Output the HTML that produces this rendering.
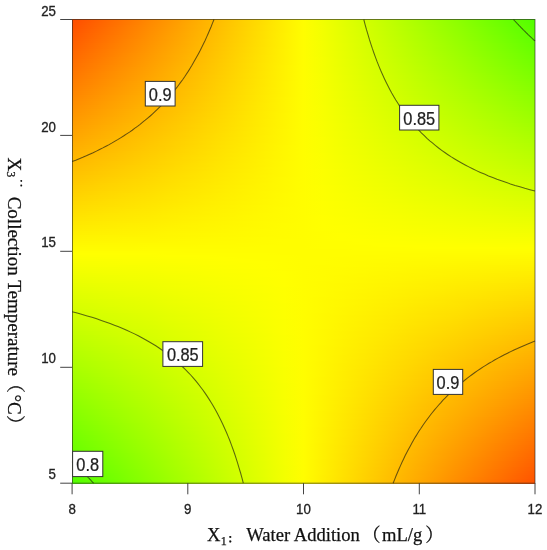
<!DOCTYPE html>
<html><head><meta charset="utf-8"><title>Contour plot</title>
<style>
html,body{margin:0;padding:0;background:#fff}
body{width:547px;height:550px;position:relative;overflow:hidden;font-family:"Liberation Sans",sans-serif}
#f{position:absolute;left:72.0px;top:19.0px;width:463.4px;height:464.6px;overflow:hidden}
#f i{display:block;width:100%}
svg{position:absolute;left:0;top:0}
svg path{fill:none;stroke:#1c1c10;stroke-width:1.05;stroke-opacity:.66}
svg line{stroke:#444;stroke-width:1}
.tk{font:14px "Liberation Sans",sans-serif;fill:#222;stroke:#222;stroke-width:.3}
.lb{fill:#fff;stroke:#333;stroke-width:1}
.lt{font:17.6px "Liberation Sans",sans-serif;fill:#222;stroke:#222;stroke-width:.25}
.ax{font:18.6px "Liberation Serif","Noto Serif CJK SC",serif;fill:#111;stroke:#111;stroke-width:.25}
.ax .cj,.cj{font:900 9px "Liberation Sans","Noto Sans CJK SC",sans-serif;fill:#111}
.bd{fill:none;stroke:#222;stroke-opacity:.6;stroke-width:1}
</style></head><body>
<div id="f"><i style="height:2.00px;background:linear-gradient(90deg,#ff4d00,#ff5c00,#ff6b00,#ff7900,#ff8800,#ff9700,#ffa500,#ffb400,#ffc300,#ffd100,#ffe000,#ffef00,#fffd00,#f2ff00,#e4ff00,#d5ff00,#c7ff00,#b8ff00,#aaff00,#9bff00,#8dff00,#7eff00,#70ff00,#61ff00,#53ff00)"></i><i style="height:2.00px;background:linear-gradient(90deg,#ff4f00,#ff5d00,#ff6c00,#ff7a00,#ff8900,#ff9700,#ffa600,#ffb500,#ffc300,#ffd200,#ffe000,#ffef00,#fffd00,#f2ff00,#e4ff00,#d5ff00,#c7ff00,#b9ff00,#aaff00,#9cff00,#8eff00,#7fff00,#71ff00,#62ff00,#54ff00)"></i><i style="height:2.00px;background:linear-gradient(90deg,#ff5000,#ff5f00,#ff6d00,#ff7b00,#ff8a00,#ff9800,#ffa700,#ffb500,#ffc400,#ffd200,#ffe000,#ffef00,#fffd00,#f2ff00,#e4ff00,#d6ff00,#c8ff00,#b9ff00,#abff00,#9dff00,#8fff00,#80ff00,#72ff00,#64ff00,#56ff00)"></i><i style="height:2.00px;background:linear-gradient(90deg,#ff5200,#ff6000,#ff6e00,#ff7d00,#ff8b00,#ff9900,#ffa800,#ffb600,#ffc400,#ffd200,#ffe100,#ffef00,#fffd00,#f3ff00,#e4ff00,#d6ff00,#c8ff00,#baff00,#acff00,#9eff00,#90ff00,#81ff00,#73ff00,#65ff00,#57ff00)"></i><i style="height:2.00px;background:linear-gradient(90deg,#ff5300,#ff6100,#ff7000,#ff7e00,#ff8c00,#ff9a00,#ffa800,#ffb600,#ffc500,#ffd300,#ffe100,#ffef00,#fffd00,#f3ff00,#e5ff00,#d7ff00,#c9ff00,#bbff00,#adff00,#9fff00,#91ff00,#83ff00,#75ff00,#67ff00,#59ff00)"></i><i style="height:2.00px;background:linear-gradient(90deg,#ff5500,#ff6300,#ff7100,#ff7f00,#ff8d00,#ff9b00,#ffa900,#ffb700,#ffc500,#ffd300,#ffe100,#ffef00,#fffd00,#f3ff00,#e5ff00,#d7ff00,#c9ff00,#bbff00,#adff00,#9fff00,#92ff00,#84ff00,#76ff00,#68ff00,#5aff00)"></i><i style="height:2.00px;background:linear-gradient(90deg,#ff5600,#ff6400,#ff7200,#ff8000,#ff8e00,#ff9c00,#ffaa00,#ffb800,#ffc600,#ffd400,#ffe200,#ffef00,#fffd00,#f3ff00,#e5ff00,#d7ff00,#caff00,#bcff00,#aeff00,#a0ff00,#93ff00,#85ff00,#77ff00,#69ff00,#5cff00)"></i><i style="height:2.00px;background:linear-gradient(90deg,#ff5800,#ff6600,#ff7300,#ff8100,#ff8f00,#ff9d00,#ffab00,#ffb800,#ffc600,#ffd400,#ffe200,#fff000,#fffd00,#f3ff00,#e5ff00,#d8ff00,#caff00,#bcff00,#afff00,#a1ff00,#94ff00,#86ff00,#78ff00,#6bff00,#5dff00)"></i><i style="height:2.00px;background:linear-gradient(90deg,#ff5900,#ff6700,#ff7500,#ff8200,#ff9000,#ff9e00,#ffab00,#ffb900,#ffc700,#ffd400,#ffe200,#fff000,#fffd00,#f3ff00,#e6ff00,#d8ff00,#cbff00,#bdff00,#b0ff00,#a2ff00,#95ff00,#87ff00,#7aff00,#6cff00,#5fff00)"></i><i style="height:2.00px;background:linear-gradient(90deg,#ff5b00,#ff6800,#ff7600,#ff8300,#ff9100,#ff9f00,#ffac00,#ffba00,#ffc700,#ffd500,#ffe200,#fff000,#fffd00,#f3ff00,#e6ff00,#d9ff00,#cbff00,#beff00,#b0ff00,#a3ff00,#96ff00,#88ff00,#7bff00,#6dff00,#60ff00)"></i><i style="height:2.00px;background:linear-gradient(90deg,#ff5c00,#ff6a00,#ff7700,#ff8500,#ff9200,#ff9f00,#ffad00,#ffba00,#ffc800,#ffd500,#ffe300,#fff000,#fffd00,#f3ff00,#e6ff00,#d9ff00,#ccff00,#beff00,#b1ff00,#a4ff00,#97ff00,#89ff00,#7cff00,#6fff00,#62ff00)"></i><i style="height:2.00px;background:linear-gradient(90deg,#ff5e00,#ff6b00,#ff7800,#ff8600,#ff9300,#ffa000,#ffae00,#ffbb00,#ffc800,#ffd500,#ffe300,#fff000,#fffd00,#f4ff00,#e6ff00,#d9ff00,#ccff00,#bfff00,#b2ff00,#a5ff00,#98ff00,#8bff00,#7dff00,#70ff00,#63ff00)"></i><i style="height:2.00px;background:linear-gradient(90deg,#ff5f00,#ff6d00,#ff7a00,#ff8700,#ff9400,#ffa100,#ffae00,#ffbc00,#ffc900,#ffd600,#ffe300,#fff000,#fffd00,#f4ff00,#e7ff00,#daff00,#cdff00,#c0ff00,#b3ff00,#a6ff00,#99ff00,#8cff00,#7fff00,#72ff00,#65ff00)"></i><i style="height:2.00px;background:linear-gradient(90deg,#ff6100,#ff6e00,#ff7b00,#ff8800,#ff9500,#ffa200,#ffaf00,#ffbc00,#ffc900,#ffd600,#ffe300,#fff000,#fffd00,#f4ff00,#e7ff00,#daff00,#cdff00,#c0ff00,#b3ff00,#a7ff00,#9aff00,#8dff00,#80ff00,#73ff00,#66ff00)"></i><i style="height:2.00px;background:linear-gradient(90deg,#ff6200,#ff6f00,#ff7c00,#ff8900,#ff9600,#ffa300,#ffb000,#ffbd00,#ffca00,#ffd700,#ffe400,#fff000,#fffd00,#f4ff00,#e7ff00,#daff00,#ceff00,#c1ff00,#b4ff00,#a7ff00,#9bff00,#8eff00,#81ff00,#74ff00,#68ff00)"></i><i style="height:2.00px;background:linear-gradient(90deg,#ff6400,#ff7100,#ff7e00,#ff8a00,#ff9700,#ffa400,#ffb100,#ffbd00,#ffca00,#ffd700,#ffe400,#fff100,#fffd00,#f4ff00,#e7ff00,#dbff00,#ceff00,#c2ff00,#b5ff00,#a8ff00,#9cff00,#8fff00,#82ff00,#76ff00,#69ff00)"></i><i style="height:2.00px;background:linear-gradient(90deg,#ff6600,#ff7200,#ff7f00,#ff8b00,#ff9800,#ffa500,#ffb100,#ffbe00,#ffcb00,#ffd700,#ffe400,#fff100,#fffd00,#f4ff00,#e8ff00,#dbff00,#cfff00,#c2ff00,#b6ff00,#a9ff00,#9dff00,#90ff00,#84ff00,#77ff00,#6bff00)"></i><i style="height:2.00px;background:linear-gradient(90deg,#ff6700,#ff7400,#ff8000,#ff8d00,#ff9900,#ffa600,#ffb200,#ffbf00,#ffcb00,#ffd800,#ffe400,#fff100,#fffd00,#f4ff00,#e8ff00,#dcff00,#cfff00,#c3ff00,#b6ff00,#aaff00,#9eff00,#91ff00,#85ff00,#79ff00,#6cff00)"></i><i style="height:2.00px;background:linear-gradient(90deg,#ff6900,#ff7500,#ff8100,#ff8e00,#ff9a00,#ffa700,#ffb300,#ffbf00,#ffcc00,#ffd800,#ffe500,#fff100,#fffd00,#f4ff00,#e8ff00,#dcff00,#d0ff00,#c3ff00,#b7ff00,#abff00,#9fff00,#92ff00,#86ff00,#7aff00,#6eff00)"></i><i style="height:2.00px;background:linear-gradient(90deg,#ff6a00,#ff7600,#ff8300,#ff8f00,#ff9b00,#ffa700,#ffb400,#ffc000,#ffcc00,#ffd900,#ffe500,#fff100,#fffd00,#f5ff00,#e8ff00,#dcff00,#d0ff00,#c4ff00,#b8ff00,#acff00,#a0ff00,#94ff00,#87ff00,#7bff00,#6fff00)"></i><i style="height:2.00px;background:linear-gradient(90deg,#ff6c00,#ff7800,#ff8400,#ff9000,#ff9c00,#ffa800,#ffb400,#ffc100,#ffcd00,#ffd900,#ffe500,#fff100,#fffd00,#f5ff00,#e9ff00,#ddff00,#d1ff00,#c5ff00,#b9ff00,#adff00,#a1ff00,#95ff00,#89ff00,#7dff00,#71ff00)"></i><i style="height:2.00px;background:linear-gradient(90deg,#ff6d00,#ff7900,#ff8500,#ff9100,#ff9d00,#ffa900,#ffb500,#ffc100,#ffcd00,#ffd900,#ffe500,#fff100,#fffd00,#f5ff00,#e9ff00,#ddff00,#d1ff00,#c5ff00,#b9ff00,#aeff00,#a2ff00,#96ff00,#8aff00,#7eff00,#72ff00)"></i><i style="height:2.00px;background:linear-gradient(90deg,#ff6f00,#ff7b00,#ff8600,#ff9200,#ff9e00,#ffaa00,#ffb600,#ffc200,#ffce00,#ffda00,#ffe600,#fff100,#fffd00,#f5ff00,#e9ff00,#ddff00,#d2ff00,#c6ff00,#baff00,#aeff00,#a3ff00,#97ff00,#8bff00,#7fff00,#74ff00)"></i><i style="height:2.00px;background:linear-gradient(90deg,#ff7000,#ff7c00,#ff8800,#ff9300,#ff9f00,#ffab00,#ffb700,#ffc300,#ffce00,#ffda00,#ffe600,#fff200,#fffd00,#f5ff00,#e9ff00,#deff00,#d2ff00,#c7ff00,#bbff00,#afff00,#a4ff00,#98ff00,#8cff00,#81ff00,#75ff00)"></i><i style="height:2.00px;background:linear-gradient(90deg,#ff7200,#ff7d00,#ff8900,#ff9500,#ffa000,#ffac00,#ffb800,#ffc300,#ffcf00,#ffda00,#ffe600,#fff200,#fffd00,#f5ff00,#eaff00,#deff00,#d3ff00,#c7ff00,#bcff00,#b0ff00,#a5ff00,#99ff00,#8eff00,#82ff00,#77ff00)"></i><i style="height:2.00px;background:linear-gradient(90deg,#ff7300,#ff7f00,#ff8a00,#ff9600,#ffa100,#ffad00,#ffb800,#ffc400,#ffcf00,#ffdb00,#ffe600,#fff200,#fffd00,#f5ff00,#eaff00,#dfff00,#d3ff00,#c8ff00,#bcff00,#b1ff00,#a6ff00,#9aff00,#8fff00,#84ff00,#78ff00)"></i><i style="height:2.00px;background:linear-gradient(90deg,#ff7500,#ff8000,#ff8c00,#ff9700,#ffa200,#ffae00,#ffb900,#ffc400,#ffd000,#ffdb00,#ffe700,#fff200,#fffd00,#f5ff00,#eaff00,#dfff00,#d4ff00,#c8ff00,#bdff00,#b2ff00,#a7ff00,#9bff00,#90ff00,#85ff00,#7aff00)"></i><i style="height:2.00px;background:linear-gradient(90deg,#ff7600,#ff8200,#ff8d00,#ff9800,#ffa300,#ffaf00,#ffba00,#ffc500,#ffd000,#ffdc00,#ffe700,#fff200,#fffd00,#f6ff00,#eaff00,#dfff00,#d4ff00,#c9ff00,#beff00,#b3ff00,#a8ff00,#9dff00,#91ff00,#86ff00,#7bff00)"></i><i style="height:2.00px;background:linear-gradient(90deg,#ff7800,#ff8300,#ff8e00,#ff9900,#ffa400,#ffaf00,#ffbb00,#ffc600,#ffd100,#ffdc00,#ffe700,#fff200,#fffd00,#f6ff00,#ebff00,#e0ff00,#d5ff00,#caff00,#bfff00,#b4ff00,#a9ff00,#9eff00,#93ff00,#88ff00,#7dff00)"></i><i style="height:2.00px;background:linear-gradient(90deg,#ff7900,#ff8400,#ff8f00,#ff9a00,#ffa500,#ffb000,#ffbb00,#ffc600,#ffd100,#ffdc00,#ffe700,#fff200,#fffd00,#f6ff00,#ebff00,#e0ff00,#d5ff00,#caff00,#bfff00,#b5ff00,#aaff00,#9fff00,#94ff00,#89ff00,#7eff00)"></i><i style="height:2.00px;background:linear-gradient(90deg,#ff7b00,#ff8600,#ff9100,#ff9b00,#ffa600,#ffb100,#ffbc00,#ffc700,#ffd200,#ffdd00,#ffe800,#fff200,#fffd00,#f6ff00,#ebff00,#e0ff00,#d6ff00,#cbff00,#c0ff00,#b5ff00,#abff00,#a0ff00,#95ff00,#8aff00,#80ff00)"></i><i style="height:2.00px;background:linear-gradient(90deg,#ff7c00,#ff8700,#ff9200,#ff9d00,#ffa700,#ffb200,#ffbd00,#ffc800,#ffd200,#ffdd00,#ffe800,#fff300,#fffd00,#f6ff00,#ebff00,#e1ff00,#d6ff00,#ccff00,#c1ff00,#b6ff00,#acff00,#a1ff00,#96ff00,#8cff00,#81ff00)"></i><i style="height:2.00px;background:linear-gradient(90deg,#ff7e00,#ff8800,#ff9300,#ff9e00,#ffa800,#ffb300,#ffbe00,#ffc800,#ffd300,#ffdd00,#ffe800,#fff300,#fffd00,#f6ff00,#ecff00,#e1ff00,#d7ff00,#ccff00,#c2ff00,#b7ff00,#adff00,#a2ff00,#98ff00,#8dff00,#83ff00)"></i><i style="height:2.00px;background:linear-gradient(90deg,#ff7f00,#ff8a00,#ff9400,#ff9f00,#ffa900,#ffb400,#ffbe00,#ffc900,#ffd300,#ffde00,#ffe800,#fff300,#fffd00,#f6ff00,#ecff00,#e2ff00,#d7ff00,#cdff00,#c2ff00,#b8ff00,#aeff00,#a3ff00,#99ff00,#8fff00,#84ff00)"></i><i style="height:2.00px;background:linear-gradient(90deg,#ff8100,#ff8b00,#ff9600,#ffa000,#ffaa00,#ffb500,#ffbf00,#ffc900,#ffd400,#ffde00,#ffe900,#fff300,#fffd00,#f6ff00,#ecff00,#e2ff00,#d8ff00,#cdff00,#c3ff00,#b9ff00,#afff00,#a4ff00,#9aff00,#90ff00,#86ff00)"></i><i style="height:2.00px;background:linear-gradient(90deg,#ff8200,#ff8d00,#ff9700,#ffa100,#ffab00,#ffb600,#ffc000,#ffca00,#ffd400,#ffdf00,#ffe900,#fff300,#fffd00,#f7ff00,#ecff00,#e2ff00,#d8ff00,#ceff00,#c4ff00,#baff00,#b0ff00,#a6ff00,#9cff00,#91ff00,#87ff00)"></i><i style="height:2.00px;background:linear-gradient(90deg,#ff8400,#ff8e00,#ff9800,#ffa200,#ffac00,#ffb700,#ffc100,#ffcb00,#ffd500,#ffdf00,#ffe900,#fff300,#fffd00,#f7ff00,#edff00,#e3ff00,#d9ff00,#cfff00,#c5ff00,#bbff00,#b1ff00,#a7ff00,#9dff00,#93ff00,#89ff00)"></i><i style="height:2.00px;background:linear-gradient(90deg,#ff8500,#ff8f00,#ff9900,#ffa300,#ffad00,#ffb700,#ffc100,#ffcb00,#ffd500,#ffdf00,#ffe900,#fff300,#fffd00,#f7ff00,#edff00,#e3ff00,#d9ff00,#cfff00,#c5ff00,#bcff00,#b2ff00,#a8ff00,#9eff00,#94ff00,#8aff00)"></i><i style="height:2.00px;background:linear-gradient(90deg,#ff8700,#ff9100,#ff9b00,#ffa500,#ffae00,#ffb800,#ffc200,#ffcc00,#ffd600,#ffe000,#ffea00,#fff300,#fffd00,#f7ff00,#edff00,#e3ff00,#daff00,#d0ff00,#c6ff00,#bcff00,#b3ff00,#a9ff00,#9fff00,#96ff00,#8cff00)"></i><i style="height:2.00px;background:linear-gradient(90deg,#ff8900,#ff9200,#ff9c00,#ffa600,#ffaf00,#ffb900,#ffc300,#ffcd00,#ffd600,#ffe000,#ffea00,#fff400,#fffd00,#f7ff00,#edff00,#e4ff00,#daff00,#d1ff00,#c7ff00,#bdff00,#b4ff00,#aaff00,#a1ff00,#97ff00,#8dff00)"></i><i style="height:2.00px;background:linear-gradient(90deg,#ff8a00,#ff9400,#ff9d00,#ffa700,#ffb000,#ffba00,#ffc400,#ffcd00,#ffd700,#ffe000,#ffea00,#fff400,#fffd00,#f7ff00,#eeff00,#e4ff00,#dbff00,#d1ff00,#c8ff00,#beff00,#b5ff00,#abff00,#a2ff00,#98ff00,#8fff00)"></i><i style="height:2.00px;background:linear-gradient(90deg,#ff8c00,#ff9500,#ff9f00,#ffa800,#ffb100,#ffbb00,#ffc400,#ffce00,#ffd700,#ffe100,#ffea00,#fff400,#fffd00,#f7ff00,#eeff00,#e5ff00,#dbff00,#d2ff00,#c8ff00,#bfff00,#b6ff00,#acff00,#a3ff00,#9aff00,#90ff00)"></i><i style="height:2.00px;background:linear-gradient(90deg,#ff8d00,#ff9600,#ffa000,#ffa900,#ffb200,#ffbc00,#ffc500,#ffcf00,#ffd800,#ffe100,#ffeb00,#fff400,#fffd00,#f7ff00,#eeff00,#e5ff00,#dcff00,#d2ff00,#c9ff00,#c0ff00,#b7ff00,#aeff00,#a4ff00,#9bff00,#92ff00)"></i><i style="height:2.00px;background:linear-gradient(90deg,#ff8f00,#ff9800,#ffa100,#ffaa00,#ffb400,#ffbd00,#ffc600,#ffcf00,#ffd800,#ffe200,#ffeb00,#fff400,#fffd00,#f8ff00,#eeff00,#e5ff00,#dcff00,#d3ff00,#caff00,#c1ff00,#b8ff00,#afff00,#a6ff00,#9cff00,#93ff00)"></i><i style="height:2.00px;background:linear-gradient(90deg,#ff9000,#ff9900,#ffa200,#ffab00,#ffb500,#ffbe00,#ffc700,#ffd000,#ffd900,#ffe200,#ffeb00,#fff400,#fffd00,#f8ff00,#efff00,#e6ff00,#ddff00,#d4ff00,#cbff00,#c2ff00,#b9ff00,#b0ff00,#a7ff00,#9eff00,#95ff00)"></i><i style="height:2.00px;background:linear-gradient(90deg,#ff9200,#ff9b00,#ffa400,#ffad00,#ffb600,#ffbf00,#ffc700,#ffd000,#ffd900,#ffe200,#ffeb00,#fff400,#fffd00,#f8ff00,#efff00,#e6ff00,#ddff00,#d4ff00,#cbff00,#c3ff00,#baff00,#b1ff00,#a8ff00,#9fff00,#96ff00)"></i><i style="height:2.00px;background:linear-gradient(90deg,#ff9300,#ff9c00,#ffa500,#ffae00,#ffb700,#ffbf00,#ffc800,#ffd100,#ffda00,#ffe300,#ffec00,#fff400,#fffd00,#f8ff00,#efff00,#e6ff00,#deff00,#d5ff00,#ccff00,#c4ff00,#bbff00,#b2ff00,#a9ff00,#a1ff00,#98ff00)"></i><i style="height:2.00px;background:linear-gradient(90deg,#ff9500,#ff9d00,#ffa600,#ffaf00,#ffb800,#ffc000,#ffc900,#ffd200,#ffda00,#ffe300,#ffec00,#fff500,#fffd00,#f8ff00,#efff00,#e7ff00,#deff00,#d6ff00,#cdff00,#c4ff00,#bcff00,#b3ff00,#abff00,#a2ff00,#99ff00)"></i><i style="height:2.00px;background:linear-gradient(90deg,#ff9600,#ff9f00,#ffa700,#ffb000,#ffb900,#ffc100,#ffca00,#ffd200,#ffdb00,#ffe400,#ffec00,#fff500,#fffd00,#f8ff00,#f0ff00,#e7ff00,#dfff00,#d6ff00,#ceff00,#c5ff00,#bdff00,#b4ff00,#acff00,#a3ff00,#9bff00)"></i><i style="height:2.00px;background:linear-gradient(90deg,#ff9800,#ffa000,#ffa900,#ffb100,#ffba00,#ffc200,#ffcb00,#ffd300,#ffdb00,#ffe400,#ffec00,#fff500,#fffd00,#f8ff00,#f0ff00,#e8ff00,#dfff00,#d7ff00,#cfff00,#c6ff00,#beff00,#b5ff00,#adff00,#a5ff00,#9cff00)"></i><i style="height:2.00px;background:linear-gradient(90deg,#ff9900,#ffa200,#ffaa00,#ffb200,#ffbb00,#ffc300,#ffcb00,#ffd400,#ffdc00,#ffe400,#ffed00,#fff500,#fffd00,#f8ff00,#f0ff00,#e8ff00,#e0ff00,#d8ff00,#cfff00,#c7ff00,#bfff00,#b7ff00,#aeff00,#a6ff00,#9eff00)"></i><i style="height:2.00px;background:linear-gradient(90deg,#ff9b00,#ffa300,#ffab00,#ffb300,#ffbc00,#ffc400,#ffcc00,#ffd400,#ffdc00,#ffe500,#ffed00,#fff500,#fffd00,#f9ff00,#f0ff00,#e8ff00,#e0ff00,#d8ff00,#d0ff00,#c8ff00,#c0ff00,#b8ff00,#b0ff00,#a7ff00,#9fff00)"></i><i style="height:2.00px;background:linear-gradient(90deg,#ff9c00,#ffa400,#ffac00,#ffb500,#ffbd00,#ffc500,#ffcd00,#ffd500,#ffdd00,#ffe500,#ffed00,#fff500,#fffd00,#f9ff00,#f1ff00,#e9ff00,#e1ff00,#d9ff00,#d1ff00,#c9ff00,#c1ff00,#b9ff00,#b1ff00,#a9ff00,#a1ff00)"></i><i style="height:2.00px;background:linear-gradient(90deg,#ff9e00,#ffa600,#ffae00,#ffb600,#ffbe00,#ffc600,#ffce00,#ffd600,#ffdd00,#ffe500,#ffed00,#fff500,#fffd00,#f9ff00,#f1ff00,#e9ff00,#e1ff00,#d9ff00,#d2ff00,#caff00,#c2ff00,#baff00,#b2ff00,#aaff00,#a2ff00)"></i><i style="height:2.00px;background:linear-gradient(90deg,#ff9f00,#ffa700,#ffaf00,#ffb700,#ffbf00,#ffc700,#ffce00,#ffd600,#ffde00,#ffe600,#ffee00,#fff500,#fffd00,#f9ff00,#f1ff00,#e9ff00,#e2ff00,#daff00,#d2ff00,#cbff00,#c3ff00,#bbff00,#b3ff00,#acff00,#a4ff00)"></i><i style="height:2.00px;background:linear-gradient(90deg,#ffa100,#ffa900,#ffb000,#ffb800,#ffc000,#ffc700,#ffcf00,#ffd700,#ffde00,#ffe600,#ffee00,#fff600,#fffd00,#f9ff00,#f1ff00,#eaff00,#e2ff00,#dbff00,#d3ff00,#cbff00,#c4ff00,#bcff00,#b5ff00,#adff00,#a5ff00)"></i><i style="height:2.00px;background:linear-gradient(90deg,#ffa200,#ffaa00,#ffb200,#ffb900,#ffc100,#ffc800,#ffd000,#ffd700,#ffdf00,#ffe700,#ffee00,#fff600,#fffd00,#f9ff00,#f2ff00,#eaff00,#e3ff00,#dbff00,#d4ff00,#ccff00,#c5ff00,#bdff00,#b6ff00,#aeff00,#a7ff00)"></i><i style="height:2.00px;background:linear-gradient(90deg,#ffa400,#ffab00,#ffb300,#ffba00,#ffc200,#ffc900,#ffd100,#ffd800,#ffe000,#ffe700,#ffee00,#fff600,#fffd00,#f9ff00,#f2ff00,#ebff00,#e3ff00,#dcff00,#d5ff00,#cdff00,#c6ff00,#beff00,#b7ff00,#b0ff00,#a8ff00)"></i><i style="height:2.00px;background:linear-gradient(90deg,#ffa500,#ffad00,#ffb400,#ffbb00,#ffc300,#ffca00,#ffd100,#ffd900,#ffe000,#ffe700,#ffef00,#fff600,#fffd00,#f9ff00,#f2ff00,#ebff00,#e4ff00,#ddff00,#d5ff00,#ceff00,#c7ff00,#c0ff00,#b8ff00,#b1ff00,#aaff00)"></i><i style="height:2.00px;background:linear-gradient(90deg,#ffa700,#ffae00,#ffb500,#ffbd00,#ffc400,#ffcb00,#ffd200,#ffd900,#ffe100,#ffe800,#ffef00,#fff600,#fffd00,#faff00,#f2ff00,#ebff00,#e4ff00,#ddff00,#d6ff00,#cfff00,#c8ff00,#c1ff00,#baff00,#b3ff00,#abff00)"></i><i style="height:2.00px;background:linear-gradient(90deg,#ffa800,#ffb000,#ffb700,#ffbe00,#ffc500,#ffcc00,#ffd300,#ffda00,#ffe100,#ffe800,#ffef00,#fff600,#fffd00,#faff00,#f3ff00,#ecff00,#e5ff00,#deff00,#d7ff00,#d0ff00,#c9ff00,#c2ff00,#bbff00,#b4ff00,#adff00)"></i><i style="height:2.00px;background:linear-gradient(90deg,#ffaa00,#ffb100,#ffb800,#ffbf00,#ffc600,#ffcd00,#ffd400,#ffdb00,#ffe200,#ffe800,#ffef00,#fff600,#fffd00,#faff00,#f3ff00,#ecff00,#e5ff00,#deff00,#d8ff00,#d1ff00,#caff00,#c3ff00,#bcff00,#b5ff00,#aeff00)"></i><i style="height:2.00px;background:linear-gradient(90deg,#ffac00,#ffb200,#ffb900,#ffc000,#ffc700,#ffce00,#ffd400,#ffdb00,#ffe200,#ffe900,#fff000,#fff600,#fffd00,#faff00,#f3ff00,#ecff00,#e6ff00,#dfff00,#d8ff00,#d2ff00,#cbff00,#c4ff00,#bdff00,#b7ff00,#b0ff00)"></i><i style="height:2.00px;background:linear-gradient(90deg,#ffad00,#ffb400,#ffba00,#ffc100,#ffc800,#ffce00,#ffd500,#ffdc00,#ffe300,#ffe900,#fff000,#fff700,#fffd00,#faff00,#f3ff00,#edff00,#e6ff00,#e0ff00,#d9ff00,#d2ff00,#ccff00,#c5ff00,#bfff00,#b8ff00,#b1ff00)"></i><i style="height:2.00px;background:linear-gradient(90deg,#ffaf00,#ffb500,#ffbc00,#ffc200,#ffc900,#ffcf00,#ffd600,#ffdc00,#ffe300,#ffea00,#fff000,#fff700,#fffd00,#faff00,#f4ff00,#edff00,#e7ff00,#e0ff00,#daff00,#d3ff00,#cdff00,#c6ff00,#c0ff00,#b9ff00,#b3ff00)"></i><i style="height:2.00px;background:linear-gradient(90deg,#ffb000,#ffb700,#ffbd00,#ffc300,#ffca00,#ffd000,#ffd700,#ffdd00,#ffe400,#ffea00,#fff000,#fff700,#fffd00,#faff00,#f4ff00,#eeff00,#e7ff00,#e1ff00,#dbff00,#d4ff00,#ceff00,#c8ff00,#c1ff00,#bbff00,#b4ff00)"></i><i style="height:2.00px;background:linear-gradient(90deg,#ffb200,#ffb800,#ffbe00,#ffc500,#ffcb00,#ffd100,#ffd700,#ffde00,#ffe400,#ffea00,#fff100,#fff700,#fffd00,#faff00,#f4ff00,#eeff00,#e8ff00,#e2ff00,#dbff00,#d5ff00,#cfff00,#c9ff00,#c2ff00,#bcff00,#b6ff00)"></i><i style="height:2.00px;background:linear-gradient(90deg,#ffb300,#ffb900,#ffc000,#ffc600,#ffcc00,#ffd200,#ffd800,#ffde00,#ffe500,#ffeb00,#fff100,#fff700,#fffd00,#fbff00,#f4ff00,#eeff00,#e8ff00,#e2ff00,#dcff00,#d6ff00,#d0ff00,#caff00,#c4ff00,#beff00,#b7ff00)"></i><i style="height:2.00px;background:linear-gradient(90deg,#ffb500,#ffbb00,#ffc100,#ffc700,#ffcd00,#ffd300,#ffd900,#ffdf00,#ffe500,#ffeb00,#fff100,#fff700,#fffd00,#fbff00,#f5ff00,#efff00,#e9ff00,#e3ff00,#ddff00,#d7ff00,#d1ff00,#cbff00,#c5ff00,#bfff00,#b9ff00)"></i><i style="height:2.00px;background:linear-gradient(90deg,#ffb600,#ffbc00,#ffc200,#ffc800,#ffce00,#ffd400,#ffda00,#ffe000,#ffe600,#ffec00,#fff100,#fff700,#fffd00,#fbff00,#f5ff00,#efff00,#e9ff00,#e3ff00,#deff00,#d8ff00,#d2ff00,#ccff00,#c6ff00,#c0ff00,#baff00)"></i><i style="height:2.00px;background:linear-gradient(90deg,#ffb800,#ffbe00,#ffc300,#ffc900,#ffcf00,#ffd500,#ffda00,#ffe000,#ffe600,#ffec00,#fff200,#fff700,#fffd00,#fbff00,#f5ff00,#f0ff00,#eaff00,#e4ff00,#deff00,#d9ff00,#d3ff00,#cdff00,#c7ff00,#c2ff00,#bcff00)"></i><i style="height:2.00px;background:linear-gradient(90deg,#ffb900,#ffbf00,#ffc500,#ffca00,#ffd000,#ffd600,#ffdb00,#ffe100,#ffe700,#ffec00,#fff200,#fff800,#fffd00,#fbff00,#f5ff00,#f0ff00,#eaff00,#e5ff00,#dfff00,#d9ff00,#d4ff00,#ceff00,#c9ff00,#c3ff00,#bdff00)"></i><i style="height:2.00px;background:linear-gradient(90deg,#ffbb00,#ffc000,#ffc600,#ffcb00,#ffd100,#ffd600,#ffdc00,#ffe200,#ffe700,#ffed00,#fff200,#fff800,#fffd00,#fbff00,#f6ff00,#f0ff00,#ebff00,#e5ff00,#e0ff00,#daff00,#d5ff00,#cfff00,#caff00,#c4ff00,#bfff00)"></i><i style="height:2.00px;background:linear-gradient(90deg,#ffbc00,#ffc200,#ffc700,#ffcd00,#ffd200,#ffd700,#ffdd00,#ffe200,#ffe800,#ffed00,#fff200,#fff800,#fffd00,#fbff00,#f6ff00,#f1ff00,#ebff00,#e6ff00,#e1ff00,#dbff00,#d6ff00,#d1ff00,#cbff00,#c6ff00,#c0ff00)"></i><i style="height:2.00px;background:linear-gradient(90deg,#ffbe00,#ffc300,#ffc800,#ffce00,#ffd300,#ffd800,#ffde00,#ffe300,#ffe800,#ffed00,#fff300,#fff800,#fffd00,#fbff00,#f6ff00,#f1ff00,#ecff00,#e7ff00,#e1ff00,#dcff00,#d7ff00,#d2ff00,#ccff00,#c7ff00,#c2ff00)"></i><i style="height:2.00px;background:linear-gradient(90deg,#ffbf00,#ffc400,#ffca00,#ffcf00,#ffd400,#ffd900,#ffde00,#ffe300,#ffe900,#ffee00,#fff300,#fff800,#fffd00,#fcff00,#f7ff00,#f1ff00,#ecff00,#e7ff00,#e2ff00,#ddff00,#d8ff00,#d3ff00,#ceff00,#c9ff00,#c3ff00)"></i><i style="height:2.00px;background:linear-gradient(90deg,#ffc100,#ffc600,#ffcb00,#ffd000,#ffd500,#ffda00,#ffdf00,#ffe400,#ffe900,#ffee00,#fff300,#fff800,#fffd00,#fcff00,#f7ff00,#f2ff00,#edff00,#e8ff00,#e3ff00,#deff00,#d9ff00,#d4ff00,#cfff00,#caff00,#c5ff00)"></i><i style="height:2.00px;background:linear-gradient(90deg,#ffc200,#ffc700,#ffcc00,#ffd100,#ffd600,#ffdb00,#ffe000,#ffe500,#ffea00,#ffef00,#fff300,#fff800,#fffd00,#fcff00,#f7ff00,#f2ff00,#edff00,#e8ff00,#e4ff00,#dfff00,#daff00,#d5ff00,#d0ff00,#cbff00,#c7ff00)"></i><i style="height:2.00px;background:linear-gradient(90deg,#ffc400,#ffc900,#ffcd00,#ffd200,#ffd700,#ffdc00,#ffe100,#ffe500,#ffea00,#ffef00,#fff400,#fff800,#fffd00,#fcff00,#f7ff00,#f3ff00,#eeff00,#e9ff00,#e4ff00,#e0ff00,#dbff00,#d6ff00,#d1ff00,#cdff00,#c8ff00)"></i><i style="height:2.00px;background:linear-gradient(90deg,#ffc500,#ffca00,#ffcf00,#ffd300,#ffd800,#ffdd00,#ffe100,#ffe600,#ffeb00,#ffef00,#fff400,#fff900,#fffd00,#fcff00,#f8ff00,#f3ff00,#eeff00,#eaff00,#e5ff00,#e1ff00,#dcff00,#d7ff00,#d3ff00,#ceff00,#caff00)"></i><i style="height:2.00px;background:linear-gradient(90deg,#ffc700,#ffcb00,#ffd000,#ffd500,#ffd900,#ffde00,#ffe200,#ffe700,#ffeb00,#fff000,#fff400,#fff900,#fffd00,#fcff00,#f8ff00,#f3ff00,#efff00,#eaff00,#e6ff00,#e1ff00,#ddff00,#d8ff00,#d4ff00,#cfff00,#cbff00)"></i><i style="height:2.00px;background:linear-gradient(90deg,#ffc800,#ffcd00,#ffd100,#ffd600,#ffda00,#ffde00,#ffe300,#ffe700,#ffec00,#fff000,#fff400,#fff900,#fffd00,#fcff00,#f8ff00,#f4ff00,#efff00,#ebff00,#e7ff00,#e2ff00,#deff00,#daff00,#d5ff00,#d1ff00,#cdff00)"></i><i style="height:2.00px;background:linear-gradient(90deg,#ffca00,#ffce00,#ffd300,#ffd700,#ffdb00,#ffdf00,#ffe400,#ffe800,#ffec00,#fff000,#fff500,#fff900,#fffd00,#fcff00,#f8ff00,#f4ff00,#f0ff00,#ecff00,#e7ff00,#e3ff00,#dfff00,#dbff00,#d6ff00,#d2ff00,#ceff00)"></i><i style="height:2.00px;background:linear-gradient(90deg,#ffcc00,#ffd000,#ffd400,#ffd800,#ffdc00,#ffe000,#ffe400,#ffe900,#ffed00,#fff100,#fff500,#fff900,#fffd00,#fdff00,#f9ff00,#f4ff00,#f0ff00,#ecff00,#e8ff00,#e4ff00,#e0ff00,#dcff00,#d8ff00,#d4ff00,#d0ff00)"></i><i style="height:2.00px;background:linear-gradient(90deg,#ffcd00,#ffd100,#ffd500,#ffd900,#ffdd00,#ffe100,#ffe500,#ffe900,#ffed00,#fff100,#fff500,#fff900,#fffd00,#fdff00,#f9ff00,#f5ff00,#f1ff00,#edff00,#e9ff00,#e5ff00,#e1ff00,#ddff00,#d9ff00,#d5ff00,#d1ff00)"></i><i style="height:2.00px;background:linear-gradient(90deg,#ffcf00,#ffd200,#ffd600,#ffda00,#ffde00,#ffe200,#ffe600,#ffea00,#ffee00,#fff200,#fff500,#fff900,#fffd00,#fdff00,#f9ff00,#f5ff00,#f1ff00,#edff00,#eaff00,#e6ff00,#e2ff00,#deff00,#daff00,#d6ff00,#d3ff00)"></i><i style="height:2.00px;background:linear-gradient(90deg,#ffd000,#ffd400,#ffd800,#ffdb00,#ffdf00,#ffe300,#ffe700,#ffea00,#ffee00,#fff200,#fff600,#fff900,#fffd00,#fdff00,#f9ff00,#f6ff00,#f2ff00,#eeff00,#eaff00,#e7ff00,#e3ff00,#dfff00,#dcff00,#d8ff00,#d4ff00)"></i><i style="height:2.00px;background:linear-gradient(90deg,#ffd200,#ffd500,#ffd900,#ffdd00,#ffe000,#ffe400,#ffe700,#ffeb00,#ffef00,#fff200,#fff600,#fffa00,#fffd00,#fdff00,#faff00,#f6ff00,#f2ff00,#efff00,#ebff00,#e8ff00,#e4ff00,#e0ff00,#ddff00,#d9ff00,#d6ff00)"></i><i style="height:2.00px;background:linear-gradient(90deg,#ffd300,#ffd700,#ffda00,#ffde00,#ffe100,#ffe500,#ffe800,#ffec00,#ffef00,#fff300,#fff600,#fffa00,#fffd00,#fdff00,#faff00,#f6ff00,#f3ff00,#efff00,#ecff00,#e8ff00,#e5ff00,#e1ff00,#deff00,#dbff00,#d7ff00)"></i><i style="height:2.00px;background:linear-gradient(90deg,#ffd500,#ffd800,#ffdb00,#ffdf00,#ffe200,#ffe600,#ffe900,#ffec00,#fff000,#fff300,#fff600,#fffa00,#fffd00,#fdff00,#faff00,#f7ff00,#f3ff00,#f0ff00,#edff00,#e9ff00,#e6ff00,#e3ff00,#dfff00,#dcff00,#d9ff00)"></i><i style="height:2.00px;background:linear-gradient(90deg,#ffd600,#ffd900,#ffdd00,#ffe000,#ffe300,#ffe600,#ffea00,#ffed00,#fff000,#fff300,#fff700,#fffa00,#fffd00,#fdff00,#faff00,#f7ff00,#f4ff00,#f1ff00,#edff00,#eaff00,#e7ff00,#e4ff00,#e1ff00,#ddff00,#daff00)"></i><i style="height:2.00px;background:linear-gradient(90deg,#ffd800,#ffdb00,#ffde00,#ffe100,#ffe400,#ffe700,#ffea00,#ffee00,#fff100,#fff400,#fff700,#fffa00,#fffd00,#feff00,#fbff00,#f7ff00,#f4ff00,#f1ff00,#eeff00,#ebff00,#e8ff00,#e5ff00,#e2ff00,#dfff00,#dcff00)"></i><i style="height:2.00px;background:linear-gradient(90deg,#ffd900,#ffdc00,#ffdf00,#ffe200,#ffe500,#ffe800,#ffeb00,#ffee00,#fff100,#fff400,#fff700,#fffa00,#fffd00,#feff00,#fbff00,#f8ff00,#f5ff00,#f2ff00,#efff00,#ecff00,#e9ff00,#e6ff00,#e3ff00,#e0ff00,#ddff00)"></i><i style="height:2.00px;background:linear-gradient(90deg,#ffdb00,#ffde00,#ffe000,#ffe300,#ffe600,#ffe900,#ffec00,#ffef00,#fff200,#fff500,#fff800,#fffa00,#fffd00,#feff00,#fbff00,#f8ff00,#f5ff00,#f3ff00,#f0ff00,#edff00,#eaff00,#e7ff00,#e4ff00,#e1ff00,#dfff00)"></i><i style="height:2.00px;background:linear-gradient(90deg,#ffdc00,#ffdf00,#ffe200,#ffe400,#ffe700,#ffea00,#ffed00,#fff000,#fff200,#fff500,#fff800,#fffb00,#fffd00,#feff00,#fbff00,#f9ff00,#f6ff00,#f3ff00,#f0ff00,#eeff00,#ebff00,#e8ff00,#e6ff00,#e3ff00,#e0ff00)"></i><i style="height:2.00px;background:linear-gradient(90deg,#ffde00,#ffe000,#ffe300,#ffe600,#ffe800,#ffeb00,#ffee00,#fff000,#fff300,#fff500,#fff800,#fffb00,#fffd00,#feff00,#fcff00,#f9ff00,#f6ff00,#f4ff00,#f1ff00,#efff00,#ecff00,#e9ff00,#e7ff00,#e4ff00,#e2ff00)"></i><i style="height:2.00px;background:linear-gradient(90deg,#ffdf00,#ffe200,#ffe400,#ffe700,#ffe900,#ffec00,#ffee00,#fff100,#fff300,#fff600,#fff800,#fffb00,#fffd00,#feff00,#fcff00,#f9ff00,#f7ff00,#f4ff00,#f2ff00,#efff00,#edff00,#ebff00,#e8ff00,#e6ff00,#e3ff00)"></i><i style="height:2.00px;background:linear-gradient(90deg,#ffe100,#ffe300,#ffe600,#ffe800,#ffea00,#ffed00,#ffef00,#fff100,#fff400,#fff600,#fff900,#fffb00,#fffd00,#feff00,#fcff00,#faff00,#f7ff00,#f5ff00,#f3ff00,#f0ff00,#eeff00,#ecff00,#e9ff00,#e7ff00,#e5ff00)"></i><i style="height:2.00px;background:linear-gradient(90deg,#ffe200,#ffe500,#ffe700,#ffe900,#ffeb00,#ffee00,#fff000,#fff200,#fff400,#fff700,#fff900,#fffb00,#fffd00,#ffff00,#fcff00,#faff00,#f8ff00,#f6ff00,#f3ff00,#f1ff00,#efff00,#edff00,#ebff00,#e8ff00,#e6ff00)"></i><i style="height:2.00px;background:linear-gradient(90deg,#ffe400,#ffe600,#ffe800,#ffea00,#ffec00,#ffee00,#fff100,#fff300,#fff500,#fff700,#fff900,#fffb00,#fffd00,#ffff00,#fdff00,#faff00,#f8ff00,#f6ff00,#f4ff00,#f2ff00,#f0ff00,#eeff00,#ecff00,#eaff00,#e8ff00)"></i><i style="height:2.00px;background:linear-gradient(90deg,#ffe500,#ffe700,#ffe900,#ffeb00,#ffed00,#ffef00,#fff100,#fff300,#fff500,#fff700,#fff900,#fffb00,#fffd00,#ffff00,#fdff00,#fbff00,#f9ff00,#f7ff00,#f5ff00,#f3ff00,#f1ff00,#efff00,#edff00,#ebff00,#e9ff00)"></i><i style="height:2.00px;background:linear-gradient(90deg,#ffe700,#ffe900,#ffeb00,#ffec00,#ffee00,#fff000,#fff200,#fff400,#fff600,#fff800,#fffa00,#fffb00,#fffd00,#ffff00,#fdff00,#fbff00,#f9ff00,#f8ff00,#f6ff00,#f4ff00,#f2ff00,#f0ff00,#eeff00,#ecff00,#ebff00)"></i><i style="height:2.00px;background:linear-gradient(90deg,#ffe800,#ffea00,#ffec00,#ffee00,#ffef00,#fff100,#fff300,#fff500,#fff600,#fff800,#fffa00,#fffc00,#fffd00,#ffff00,#fdff00,#fcff00,#faff00,#f8ff00,#f6ff00,#f5ff00,#f3ff00,#f1ff00,#f0ff00,#eeff00,#ecff00)"></i><i style="height:2.00px;background:linear-gradient(90deg,#ffea00,#ffec00,#ffed00,#ffef00,#fff000,#fff200,#fff400,#fff500,#fff700,#fff800,#fffa00,#fffc00,#fffd00,#ffff00,#feff00,#fcff00,#faff00,#f9ff00,#f7ff00,#f6ff00,#f4ff00,#f2ff00,#f1ff00,#efff00,#eeff00)"></i><i style="height:2.00px;background:linear-gradient(90deg,#ffeb00,#ffed00,#ffee00,#fff000,#fff100,#fff300,#fff400,#fff600,#fff700,#fff900,#fffa00,#fffc00,#fffd00,#ffff00,#feff00,#fcff00,#fbff00,#f9ff00,#f8ff00,#f6ff00,#f5ff00,#f4ff00,#f2ff00,#f1ff00,#efff00)"></i><i style="height:2.00px;background:linear-gradient(90deg,#ffed00,#ffee00,#fff000,#fff100,#fff200,#fff400,#fff500,#fff600,#fff800,#fff900,#fffb00,#fffc00,#fffd00,#ffff00,#feff00,#fdff00,#fbff00,#faff00,#f9ff00,#f7ff00,#f6ff00,#f5ff00,#f3ff00,#f2ff00,#f1ff00)"></i><i style="height:2.00px;background:linear-gradient(90deg,#ffef00,#fff000,#fff100,#fff200,#fff300,#fff500,#fff600,#fff700,#fff800,#fffa00,#fffb00,#fffc00,#fffd00,#fffe00,#feff00,#fdff00,#fcff00,#fbff00,#f9ff00,#f8ff00,#f7ff00,#f6ff00,#f5ff00,#f3ff00,#f2ff00)"></i><i style="height:2.00px;background:linear-gradient(90deg,#fff000,#fff100,#fff200,#fff300,#fff400,#fff600,#fff700,#fff800,#fff900,#fffa00,#fffb00,#fffc00,#fffd00,#fffe00,#ffff00,#fdff00,#fcff00,#fbff00,#faff00,#f9ff00,#f8ff00,#f7ff00,#f6ff00,#f5ff00,#f4ff00)"></i><i style="height:2.00px;background:linear-gradient(90deg,#fff200,#fff300,#fff400,#fff400,#fff500,#fff600,#fff700,#fff800,#fff900,#fffa00,#fffb00,#fffc00,#fffd00,#fffe00,#ffff00,#feff00,#fdff00,#fcff00,#fbff00,#faff00,#f9ff00,#f8ff00,#f7ff00,#f6ff00,#f5ff00)"></i><i style="height:2.00px;background:linear-gradient(90deg,#fff300,#fff400,#fff500,#fff600,#fff600,#fff700,#fff800,#fff900,#fffa00,#fffb00,#fffc00,#fffc00,#fffd00,#fffe00,#ffff00,#feff00,#fdff00,#fdff00,#fcff00,#fbff00,#faff00,#f9ff00,#f8ff00,#f8ff00,#f7ff00)"></i><i style="height:2.00px;background:linear-gradient(90deg,#fff500,#fff500,#fff600,#fff700,#fff700,#fff800,#fff900,#fffa00,#fffa00,#fffb00,#fffc00,#fffd00,#fffd00,#fffe00,#ffff00,#ffff00,#feff00,#fdff00,#fcff00,#fcff00,#fbff00,#faff00,#faff00,#f9ff00,#f8ff00)"></i><i style="height:2.00px;background:linear-gradient(90deg,#fff600,#fff700,#fff700,#fff800,#fff800,#fff900,#fffa00,#fffa00,#fffb00,#fffb00,#fffc00,#fffd00,#fffd00,#fffe00,#fffe00,#ffff00,#feff00,#feff00,#fdff00,#fdff00,#fcff00,#fbff00,#fbff00,#faff00,#faff00)"></i><i style="height:2.00px;background:linear-gradient(90deg,#fff800,#fff800,#fff900,#fff900,#fffa00,#fffa00,#fffa00,#fffb00,#fffb00,#fffc00,#fffc00,#fffd00,#fffd00,#fffe00,#fffe00,#ffff00,#ffff00,#feff00,#feff00,#feff00,#fdff00,#fdff00,#fcff00,#fcff00,#fbff00)"></i><i style="height:2.00px;background:linear-gradient(90deg,#fff900,#fffa00,#fffa00,#fffa00,#fffb00,#fffb00,#fffb00,#fffc00,#fffc00,#fffc00,#fffd00,#fffd00,#fffd00,#fffe00,#fffe00,#fffe00,#ffff00,#ffff00,#ffff00,#feff00,#feff00,#feff00,#fdff00,#fdff00,#fdff00)"></i><i style="height:2.00px;background:linear-gradient(90deg,#fffb00,#fffb00,#fffb00,#fffb00,#fffc00,#fffc00,#fffc00,#fffc00,#fffc00,#fffd00,#fffd00,#fffd00,#fffd00,#fffe00,#fffe00,#fffe00,#fffe00,#fffe00,#ffff00,#ffff00,#ffff00,#ffff00,#ffff00,#feff00,#feff00)"></i><i style="height:2.00px;background:linear-gradient(90deg,#fffc00,#fffc00,#fffc00,#fffc00,#fffd00,#fffd00,#fffd00,#fffd00,#fffd00,#fffd00,#fffd00,#fffd00,#fffd00,#fffd00,#fffd00,#fffe00,#fffe00,#fffe00,#fffe00,#fffe00,#fffe00,#fffe00,#fffe00,#fffe00,#fffe00)"></i><i style="height:2.00px;background:linear-gradient(90deg,#fffe00,#fffe00,#fffe00,#fffe00,#fffe00,#fffe00,#fffd00,#fffd00,#fffd00,#fffd00,#fffd00,#fffd00,#fffd00,#fffd00,#fffd00,#fffd00,#fffd00,#fffd00,#fffd00,#fffd00,#fffd00,#fffd00,#fffd00,#fffd00,#fffd00)"></i><i style="height:2.00px;background:linear-gradient(90deg,#ffff00,#ffff00,#ffff00,#ffff00,#ffff00,#fffe00,#fffe00,#fffe00,#fffe00,#fffe00,#fffe00,#fffd00,#fffd00,#fffd00,#fffd00,#fffd00,#fffd00,#fffc00,#fffc00,#fffc00,#fffc00,#fffc00,#fffc00,#fffc00,#fffb00)"></i><i style="height:2.00px;background:linear-gradient(90deg,#fdff00,#feff00,#feff00,#feff00,#feff00,#ffff00,#ffff00,#ffff00,#fffe00,#fffe00,#fffe00,#fffe00,#fffd00,#fffd00,#fffd00,#fffc00,#fffc00,#fffc00,#fffc00,#fffb00,#fffb00,#fffb00,#fffa00,#fffa00,#fffa00)"></i><i style="height:2.00px;background:linear-gradient(90deg,#fcff00,#fcff00,#fdff00,#fdff00,#fdff00,#feff00,#feff00,#ffff00,#ffff00,#fffe00,#fffe00,#fffe00,#fffd00,#fffd00,#fffc00,#fffc00,#fffc00,#fffb00,#fffb00,#fffa00,#fffa00,#fffa00,#fff900,#fff900,#fff800)"></i><i style="height:2.00px;background:linear-gradient(90deg,#faff00,#fbff00,#fbff00,#fcff00,#fcff00,#fdff00,#fdff00,#feff00,#ffff00,#ffff00,#fffe00,#fffe00,#fffd00,#fffd00,#fffc00,#fffc00,#fffb00,#fffb00,#fffa00,#fffa00,#fff900,#fff900,#fff800,#fff700,#fff700)"></i><i style="height:2.00px;background:linear-gradient(90deg,#f9ff00,#f9ff00,#faff00,#fbff00,#fbff00,#fcff00,#fdff00,#fdff00,#feff00,#ffff00,#ffff00,#fffe00,#fffd00,#fffd00,#fffc00,#fffb00,#fffb00,#fffa00,#fff900,#fff900,#fff800,#fff700,#fff700,#fff600,#fff500)"></i><i style="height:2.00px;background:linear-gradient(90deg,#f7ff00,#f8ff00,#f9ff00,#faff00,#faff00,#fbff00,#fcff00,#fdff00,#feff00,#feff00,#ffff00,#fffe00,#fffd00,#fffd00,#fffc00,#fffb00,#fffa00,#fff900,#fff900,#fff800,#fff700,#fff600,#fff600,#fff500,#fff400)"></i><i style="height:2.00px;background:linear-gradient(90deg,#f6ff00,#f7ff00,#f8ff00,#f8ff00,#f9ff00,#faff00,#fbff00,#fcff00,#fdff00,#feff00,#ffff00,#fffe00,#fffd00,#fffc00,#fffc00,#fffb00,#fffa00,#fff900,#fff800,#fff700,#fff600,#fff500,#fff400,#fff300,#fff300)"></i><i style="height:2.00px;background:linear-gradient(90deg,#f4ff00,#f5ff00,#f6ff00,#f7ff00,#f8ff00,#f9ff00,#faff00,#fcff00,#fdff00,#feff00,#ffff00,#fffe00,#fffd00,#fffc00,#fffb00,#fffa00,#fff900,#fff800,#fff700,#fff600,#fff500,#fff400,#fff300,#fff200,#fff100)"></i><i style="height:2.00px;background:linear-gradient(90deg,#f3ff00,#f4ff00,#f5ff00,#f6ff00,#f7ff00,#f9ff00,#faff00,#fbff00,#fcff00,#fdff00,#feff00,#fffe00,#fffd00,#fffc00,#fffb00,#fffa00,#fff900,#fff800,#fff600,#fff500,#fff400,#fff300,#fff200,#fff100,#fff000)"></i><i style="height:2.00px;background:linear-gradient(90deg,#f1ff00,#f3ff00,#f4ff00,#f5ff00,#f6ff00,#f8ff00,#f9ff00,#faff00,#fcff00,#fdff00,#feff00,#ffff00,#fffd00,#fffc00,#fffb00,#fffa00,#fff800,#fff700,#fff600,#fff400,#fff300,#fff200,#fff100,#ffef00,#ffee00)"></i><i style="height:2.00px;background:linear-gradient(90deg,#f0ff00,#f1ff00,#f3ff00,#f4ff00,#f5ff00,#f7ff00,#f8ff00,#faff00,#fbff00,#fcff00,#feff00,#ffff00,#fffd00,#fffc00,#fffb00,#fff900,#fff800,#fff600,#fff500,#fff400,#fff200,#fff100,#ffef00,#ffee00,#ffed00)"></i><i style="height:2.00px;background:linear-gradient(90deg,#eeff00,#f0ff00,#f1ff00,#f3ff00,#f4ff00,#f6ff00,#f7ff00,#f9ff00,#fbff00,#fcff00,#feff00,#ffff00,#fffd00,#fffc00,#fffa00,#fff900,#fff700,#fff600,#fff400,#fff300,#fff100,#fff000,#ffee00,#ffed00,#ffeb00)"></i><i style="height:2.00px;background:linear-gradient(90deg,#edff00,#eeff00,#f0ff00,#f2ff00,#f3ff00,#f5ff00,#f7ff00,#f8ff00,#faff00,#fcff00,#fdff00,#ffff00,#fffd00,#fffc00,#fffa00,#fff800,#fff700,#fff500,#fff400,#fff200,#fff000,#ffef00,#ffed00,#ffeb00,#ffea00)"></i><i style="height:2.00px;background:linear-gradient(90deg,#ebff00,#edff00,#efff00,#f1ff00,#f2ff00,#f4ff00,#f6ff00,#f8ff00,#faff00,#fbff00,#fdff00,#ffff00,#fffd00,#fffc00,#fffa00,#fff800,#fff600,#fff500,#fff300,#fff100,#ffef00,#ffee00,#ffec00,#ffea00,#ffe800)"></i><i style="height:2.00px;background:linear-gradient(90deg,#eaff00,#ecff00,#eeff00,#efff00,#f1ff00,#f3ff00,#f5ff00,#f7ff00,#f9ff00,#fbff00,#fdff00,#ffff00,#fffd00,#fffb00,#fffa00,#fff800,#fff600,#fff400,#fff200,#fff000,#ffee00,#ffec00,#ffeb00,#ffe900,#ffe700)"></i><i style="height:2.00px;background:linear-gradient(90deg,#e8ff00,#eaff00,#ecff00,#eeff00,#f0ff00,#f2ff00,#f4ff00,#f7ff00,#f9ff00,#fbff00,#fdff00,#ffff00,#fffd00,#fffb00,#fff900,#fff700,#fff500,#fff300,#fff100,#ffef00,#ffed00,#ffeb00,#ffe900,#ffe700,#ffe500)"></i><i style="height:2.00px;background:linear-gradient(90deg,#e7ff00,#e9ff00,#ebff00,#edff00,#efff00,#f2ff00,#f4ff00,#f6ff00,#f8ff00,#faff00,#fcff00,#ffff00,#fffd00,#fffb00,#fff900,#fff700,#fff500,#fff300,#fff100,#ffee00,#ffec00,#ffea00,#ffe800,#ffe600,#ffe400)"></i><i style="height:2.00px;background:linear-gradient(90deg,#e5ff00,#e7ff00,#eaff00,#ecff00,#eeff00,#f1ff00,#f3ff00,#f5ff00,#f8ff00,#faff00,#fcff00,#feff00,#fffd00,#fffb00,#fff900,#fff700,#fff400,#fff200,#fff000,#ffee00,#ffeb00,#ffe900,#ffe700,#ffe500,#ffe200)"></i><i style="height:2.00px;background:linear-gradient(90deg,#e4ff00,#e6ff00,#e9ff00,#ebff00,#edff00,#f0ff00,#f2ff00,#f5ff00,#f7ff00,#f9ff00,#fcff00,#feff00,#fffd00,#fffb00,#fff900,#fff600,#fff400,#fff100,#ffef00,#ffed00,#ffea00,#ffe800,#ffe600,#ffe300,#ffe100)"></i><i style="height:2.00px;background:linear-gradient(90deg,#e2ff00,#e5ff00,#e7ff00,#eaff00,#ecff00,#efff00,#f1ff00,#f4ff00,#f7ff00,#f9ff00,#fcff00,#feff00,#fffd00,#fffb00,#fff800,#fff600,#fff300,#fff100,#ffee00,#ffec00,#ffe900,#ffe700,#ffe400,#ffe200,#ffdf00)"></i><i style="height:2.00px;background:linear-gradient(90deg,#e1ff00,#e3ff00,#e6ff00,#e9ff00,#ebff00,#eeff00,#f1ff00,#f3ff00,#f6ff00,#f9ff00,#fbff00,#feff00,#fffd00,#fffb00,#fff800,#fff500,#fff300,#fff000,#ffee00,#ffeb00,#ffe800,#ffe600,#ffe300,#ffe100,#ffde00)"></i><i style="height:2.00px;background:linear-gradient(90deg,#dfff00,#e2ff00,#e5ff00,#e8ff00,#eaff00,#edff00,#f0ff00,#f3ff00,#f6ff00,#f8ff00,#fbff00,#feff00,#fffd00,#fffb00,#fff800,#fff500,#fff200,#fff000,#ffed00,#ffea00,#ffe700,#ffe500,#ffe200,#ffdf00,#ffdd00)"></i><i style="height:2.00px;background:linear-gradient(90deg,#deff00,#e1ff00,#e4ff00,#e6ff00,#e9ff00,#ecff00,#efff00,#f2ff00,#f5ff00,#f8ff00,#fbff00,#feff00,#fffd00,#fffa00,#fff800,#fff500,#fff200,#ffef00,#ffec00,#ffe900,#ffe600,#ffe400,#ffe100,#ffde00,#ffdb00)"></i><i style="height:2.00px;background:linear-gradient(90deg,#dcff00,#dfff00,#e2ff00,#e5ff00,#e8ff00,#ebff00,#eeff00,#f2ff00,#f5ff00,#f8ff00,#fbff00,#feff00,#fffd00,#fffa00,#fff700,#fff400,#fff100,#ffee00,#ffeb00,#ffe800,#ffe500,#ffe200,#ffe000,#ffdd00,#ffda00)"></i><i style="height:2.00px;background:linear-gradient(90deg,#dbff00,#deff00,#e1ff00,#e4ff00,#e7ff00,#ebff00,#eeff00,#f1ff00,#f4ff00,#f7ff00,#faff00,#feff00,#fffd00,#fffa00,#fff700,#fff400,#fff100,#ffee00,#ffeb00,#ffe800,#ffe400,#ffe100,#ffde00,#ffdb00,#ffd800)"></i><i style="height:2.00px;background:linear-gradient(90deg,#d9ff00,#dcff00,#e0ff00,#e3ff00,#e6ff00,#eaff00,#edff00,#f0ff00,#f4ff00,#f7ff00,#faff00,#fdff00,#fffd00,#fffa00,#fff700,#fff400,#fff000,#ffed00,#ffea00,#ffe700,#ffe400,#ffe000,#ffdd00,#ffda00,#ffd700)"></i><i style="height:2.00px;background:linear-gradient(90deg,#d8ff00,#dbff00,#dfff00,#e2ff00,#e5ff00,#e9ff00,#ecff00,#f0ff00,#f3ff00,#f6ff00,#faff00,#fdff00,#fffd00,#fffa00,#fff700,#fff300,#fff000,#ffed00,#ffe900,#ffe600,#ffe300,#ffdf00,#ffdc00,#ffd900,#ffd500)"></i><i style="height:2.00px;background:linear-gradient(90deg,#d6ff00,#daff00,#ddff00,#e1ff00,#e4ff00,#e8ff00,#ebff00,#efff00,#f3ff00,#f6ff00,#faff00,#fdff00,#fffd00,#fffa00,#fff600,#fff300,#ffef00,#ffec00,#ffe800,#ffe500,#ffe200,#ffde00,#ffdb00,#ffd700,#ffd400)"></i><i style="height:2.00px;background:linear-gradient(90deg,#d5ff00,#d8ff00,#dcff00,#e0ff00,#e3ff00,#e7ff00,#ebff00,#eeff00,#f2ff00,#f6ff00,#f9ff00,#fdff00,#fffd00,#fffa00,#fff600,#fff300,#ffef00,#ffeb00,#ffe800,#ffe400,#ffe100,#ffdd00,#ffd900,#ffd600,#ffd200)"></i><i style="height:2.00px;background:linear-gradient(90deg,#d3ff00,#d7ff00,#dbff00,#dfff00,#e2ff00,#e6ff00,#eaff00,#eeff00,#f2ff00,#f5ff00,#f9ff00,#fdff00,#fffd00,#fffa00,#fff600,#fff200,#ffee00,#ffeb00,#ffe700,#ffe300,#ffe000,#ffdc00,#ffd800,#ffd400,#ffd100)"></i><i style="height:2.00px;background:linear-gradient(90deg,#d2ff00,#d6ff00,#d9ff00,#ddff00,#e1ff00,#e5ff00,#e9ff00,#edff00,#f1ff00,#f5ff00,#f9ff00,#fdff00,#fffd00,#fff900,#fff600,#fff200,#ffee00,#ffea00,#ffe600,#ffe200,#ffdf00,#ffdb00,#ffd700,#ffd300,#ffcf00)"></i><i style="height:2.00px;background:linear-gradient(90deg,#d0ff00,#d4ff00,#d8ff00,#dcff00,#e0ff00,#e4ff00,#e8ff00,#edff00,#f1ff00,#f5ff00,#f9ff00,#fdff00,#fffd00,#fff900,#fff500,#fff100,#ffed00,#ffe900,#ffe600,#ffe200,#ffde00,#ffda00,#ffd600,#ffd200,#ffce00)"></i><i style="height:2.00px;background:linear-gradient(90deg,#cfff00,#d3ff00,#d7ff00,#dbff00,#dfff00,#e4ff00,#e8ff00,#ecff00,#f0ff00,#f4ff00,#f8ff00,#fdff00,#fffd00,#fff900,#fff500,#fff100,#ffed00,#ffe900,#ffe500,#ffe100,#ffdd00,#ffd900,#ffd400,#ffd000,#ffcc00)"></i><i style="height:2.00px;background:linear-gradient(90deg,#cdff00,#d1ff00,#d6ff00,#daff00,#deff00,#e3ff00,#e7ff00,#ebff00,#f0ff00,#f4ff00,#f8ff00,#fcff00,#fffd00,#fff900,#fff500,#fff100,#ffec00,#ffe800,#ffe400,#ffe000,#ffdc00,#ffd700,#ffd300,#ffcf00,#ffcb00)"></i><i style="height:2.00px;background:linear-gradient(90deg,#ccff00,#d0ff00,#d4ff00,#d9ff00,#ddff00,#e2ff00,#e6ff00,#ebff00,#efff00,#f3ff00,#f8ff00,#fcff00,#fffd00,#fff900,#fff500,#fff000,#ffec00,#ffe800,#ffe300,#ffdf00,#ffdb00,#ffd600,#ffd200,#ffce00,#ffc900)"></i><i style="height:2.00px;background:linear-gradient(90deg,#caff00,#cfff00,#d3ff00,#d8ff00,#dcff00,#e1ff00,#e5ff00,#eaff00,#efff00,#f3ff00,#f8ff00,#fcff00,#fffd00,#fff900,#fff400,#fff000,#ffeb00,#ffe700,#ffe300,#ffde00,#ffda00,#ffd500,#ffd100,#ffcc00,#ffc800)"></i><i style="height:2.00px;background:linear-gradient(90deg,#c9ff00,#cdff00,#d2ff00,#d7ff00,#dbff00,#e0ff00,#e5ff00,#e9ff00,#eeff00,#f3ff00,#f7ff00,#fcff00,#fffd00,#fff900,#fff400,#fff000,#ffeb00,#ffe600,#ffe200,#ffdd00,#ffd900,#ffd400,#ffd000,#ffcb00,#ffc600)"></i><i style="height:2.00px;background:linear-gradient(90deg,#c7ff00,#ccff00,#d1ff00,#d6ff00,#daff00,#dfff00,#e4ff00,#e9ff00,#eeff00,#f2ff00,#f7ff00,#fcff00,#fffd00,#fff900,#fff400,#ffef00,#ffeb00,#ffe600,#ffe100,#ffdc00,#ffd800,#ffd300,#ffce00,#ffca00,#ffc500)"></i><i style="height:2.00px;background:linear-gradient(90deg,#c6ff00,#cbff00,#cfff00,#d4ff00,#d9ff00,#deff00,#e3ff00,#e8ff00,#edff00,#f2ff00,#f7ff00,#fcff00,#fffd00,#fff800,#fff400,#ffef00,#ffea00,#ffe500,#ffe000,#ffdc00,#ffd700,#ffd200,#ffcd00,#ffc800,#ffc400)"></i><i style="height:2.00px;background:linear-gradient(90deg,#c4ff00,#c9ff00,#ceff00,#d3ff00,#d8ff00,#ddff00,#e2ff00,#e7ff00,#edff00,#f2ff00,#f7ff00,#fcff00,#fffd00,#fff800,#fff300,#ffee00,#ffea00,#ffe500,#ffe000,#ffdb00,#ffd600,#ffd100,#ffcc00,#ffc700,#ffc200)"></i><i style="height:2.00px;background:linear-gradient(90deg,#c3ff00,#c8ff00,#cdff00,#d2ff00,#d7ff00,#ddff00,#e2ff00,#e7ff00,#ecff00,#f1ff00,#f6ff00,#fcff00,#fffd00,#fff800,#fff300,#ffee00,#ffe900,#ffe400,#ffdf00,#ffda00,#ffd500,#ffd000,#ffcb00,#ffc600,#ffc100)"></i><i style="height:2.00px;background:linear-gradient(90deg,#c1ff00,#c6ff00,#ccff00,#d1ff00,#d6ff00,#dcff00,#e1ff00,#e6ff00,#ecff00,#f1ff00,#f6ff00,#fbff00,#fffd00,#fff800,#fff300,#ffee00,#ffe900,#ffe300,#ffde00,#ffd900,#ffd400,#ffcf00,#ffc900,#ffc400,#ffbf00)"></i><i style="height:2.00px;background:linear-gradient(90deg,#c0ff00,#c5ff00,#caff00,#d0ff00,#d5ff00,#dbff00,#e0ff00,#e6ff00,#ebff00,#f0ff00,#f6ff00,#fbff00,#fffd00,#fff800,#fff300,#ffed00,#ffe800,#ffe300,#ffdd00,#ffd800,#ffd300,#ffce00,#ffc800,#ffc300,#ffbe00)"></i><i style="height:2.00px;background:linear-gradient(90deg,#beff00,#c4ff00,#c9ff00,#cfff00,#d4ff00,#daff00,#dfff00,#e5ff00,#ebff00,#f0ff00,#f6ff00,#fbff00,#fffd00,#fff800,#fff200,#ffed00,#ffe800,#ffe200,#ffdd00,#ffd700,#ffd200,#ffcc00,#ffc700,#ffc200,#ffbc00)"></i><i style="height:2.00px;background:linear-gradient(90deg,#bdff00,#c2ff00,#c8ff00,#ceff00,#d3ff00,#d9ff00,#dfff00,#e4ff00,#eaff00,#f0ff00,#f5ff00,#fbff00,#fffd00,#fff800,#fff200,#ffed00,#ffe700,#ffe200,#ffdc00,#ffd600,#ffd100,#ffcb00,#ffc600,#ffc000,#ffbb00)"></i><i style="height:2.00px;background:linear-gradient(90deg,#bbff00,#c1ff00,#c7ff00,#cdff00,#d2ff00,#d8ff00,#deff00,#e4ff00,#eaff00,#efff00,#f5ff00,#fbff00,#fffd00,#fff800,#fff200,#ffec00,#ffe700,#ffe100,#ffdb00,#ffd600,#ffd000,#ffca00,#ffc500,#ffbf00,#ffb900)"></i><i style="height:2.00px;background:linear-gradient(90deg,#baff00,#c0ff00,#c5ff00,#cbff00,#d1ff00,#d7ff00,#ddff00,#e3ff00,#e9ff00,#efff00,#f5ff00,#fbff00,#fffd00,#fff700,#fff200,#ffec00,#ffe600,#ffe000,#ffdb00,#ffd500,#ffcf00,#ffc900,#ffc300,#ffbe00,#ffb800)"></i><i style="height:2.00px;background:linear-gradient(90deg,#b8ff00,#beff00,#c4ff00,#caff00,#d0ff00,#d6ff00,#dcff00,#e2ff00,#e9ff00,#efff00,#f5ff00,#fbff00,#fffd00,#fff700,#fff100,#ffec00,#ffe600,#ffe000,#ffda00,#ffd400,#ffce00,#ffc800,#ffc200,#ffbc00,#ffb600)"></i><i style="height:2.00px;background:linear-gradient(90deg,#b7ff00,#bdff00,#c3ff00,#c9ff00,#cfff00,#d5ff00,#dcff00,#e2ff00,#e8ff00,#eeff00,#f4ff00,#fbff00,#fffd00,#fff700,#fff100,#ffeb00,#ffe500,#ffdf00,#ffd900,#ffd300,#ffcd00,#ffc700,#ffc100,#ffbb00,#ffb500)"></i><i style="height:2.00px;background:linear-gradient(90deg,#b5ff00,#bbff00,#c2ff00,#c8ff00,#ceff00,#d5ff00,#dbff00,#e1ff00,#e8ff00,#eeff00,#f4ff00,#faff00,#fffd00,#fff700,#fff100,#ffeb00,#ffe500,#ffde00,#ffd800,#ffd200,#ffcc00,#ffc600,#ffc000,#ffba00,#ffb300)"></i><i style="height:2.00px;background:linear-gradient(90deg,#b4ff00,#baff00,#c0ff00,#c7ff00,#cdff00,#d4ff00,#daff00,#e1ff00,#e7ff00,#edff00,#f4ff00,#faff00,#fffd00,#fff700,#fff100,#ffea00,#ffe400,#ffde00,#ffd800,#ffd100,#ffcb00,#ffc500,#ffbe00,#ffb800,#ffb200)"></i><i style="height:2.00px;background:linear-gradient(90deg,#b2ff00,#b9ff00,#bfff00,#c6ff00,#ccff00,#d3ff00,#d9ff00,#e0ff00,#e7ff00,#edff00,#f4ff00,#faff00,#fffd00,#fff700,#fff000,#ffea00,#ffe400,#ffdd00,#ffd700,#ffd000,#ffca00,#ffc400,#ffbd00,#ffb700,#ffb000)"></i><i style="height:2.00px;background:linear-gradient(90deg,#b1ff00,#b7ff00,#beff00,#c5ff00,#cbff00,#d2ff00,#d9ff00,#dfff00,#e6ff00,#edff00,#f3ff00,#faff00,#fffd00,#fff700,#fff000,#ffea00,#ffe300,#ffdd00,#ffd600,#ffd000,#ffc900,#ffc300,#ffbc00,#ffb500,#ffaf00)"></i><i style="height:2.00px;background:linear-gradient(90deg,#afff00,#b6ff00,#bdff00,#c3ff00,#caff00,#d1ff00,#d8ff00,#dfff00,#e6ff00,#ecff00,#f3ff00,#faff00,#fffd00,#fff700,#fff000,#ffe900,#ffe300,#ffdc00,#ffd500,#ffcf00,#ffc800,#ffc100,#ffbb00,#ffb400,#ffad00)"></i><i style="height:2.00px;background:linear-gradient(90deg,#aeff00,#b4ff00,#bbff00,#c2ff00,#c9ff00,#d0ff00,#d7ff00,#deff00,#e5ff00,#ecff00,#f3ff00,#faff00,#fffd00,#fff600,#fff000,#ffe900,#ffe200,#ffdb00,#ffd500,#ffce00,#ffc700,#ffc000,#ffba00,#ffb300,#ffac00)"></i><i style="height:2.00px;background:linear-gradient(90deg,#acff00,#b3ff00,#baff00,#c1ff00,#c8ff00,#cfff00,#d6ff00,#ddff00,#e5ff00,#ecff00,#f3ff00,#faff00,#fffd00,#fff600,#ffef00,#ffe900,#ffe200,#ffdb00,#ffd400,#ffcd00,#ffc600,#ffbf00,#ffb800,#ffb100,#ffab00)"></i><i style="height:2.00px;background:linear-gradient(90deg,#abff00,#b2ff00,#b9ff00,#c0ff00,#c7ff00,#ceff00,#d6ff00,#ddff00,#e4ff00,#ebff00,#f2ff00,#faff00,#fffd00,#fff600,#ffef00,#ffe800,#ffe100,#ffda00,#ffd300,#ffcc00,#ffc500,#ffbe00,#ffb700,#ffb000,#ffa900)"></i><i style="height:2.00px;background:linear-gradient(90deg,#a9ff00,#b0ff00,#b8ff00,#bfff00,#c6ff00,#ceff00,#d5ff00,#dcff00,#e4ff00,#ebff00,#f2ff00,#f9ff00,#fffd00,#fff600,#ffef00,#ffe800,#ffe100,#ffda00,#ffd200,#ffcb00,#ffc400,#ffbd00,#ffb600,#ffaf00,#ffa800)"></i><i style="height:2.00px;background:linear-gradient(90deg,#a8ff00,#afff00,#b6ff00,#beff00,#c5ff00,#cdff00,#d4ff00,#dcff00,#e3ff00,#eaff00,#f2ff00,#f9ff00,#fffd00,#fff600,#ffef00,#ffe700,#ffe000,#ffd900,#ffd200,#ffca00,#ffc300,#ffbc00,#ffb500,#ffad00,#ffa600)"></i><i style="height:2.00px;background:linear-gradient(90deg,#a6ff00,#aeff00,#b5ff00,#bdff00,#c4ff00,#ccff00,#d3ff00,#dbff00,#e3ff00,#eaff00,#f2ff00,#f9ff00,#fffd00,#fff600,#ffee00,#ffe700,#ffe000,#ffd800,#ffd100,#ffca00,#ffc200,#ffbb00,#ffb300,#ffac00,#ffa500)"></i><i style="height:2.00px;background:linear-gradient(90deg,#a5ff00,#acff00,#b4ff00,#bcff00,#c3ff00,#cbff00,#d3ff00,#daff00,#e2ff00,#eaff00,#f1ff00,#f9ff00,#fffd00,#fff600,#ffee00,#ffe700,#ffdf00,#ffd800,#ffd000,#ffc900,#ffc100,#ffba00,#ffb200,#ffab00,#ffa300)"></i><i style="height:2.00px;background:linear-gradient(90deg,#a3ff00,#abff00,#b3ff00,#baff00,#c2ff00,#caff00,#d2ff00,#daff00,#e2ff00,#e9ff00,#f1ff00,#f9ff00,#fffd00,#fff600,#ffee00,#ffe600,#ffdf00,#ffd700,#ffcf00,#ffc800,#ffc000,#ffb900,#ffb100,#ffa900,#ffa200)"></i><i style="height:2.00px;background:linear-gradient(90deg,#a2ff00,#a9ff00,#b1ff00,#b9ff00,#c1ff00,#c9ff00,#d1ff00,#d9ff00,#e1ff00,#e9ff00,#f1ff00,#f9ff00,#fffd00,#fff500,#ffee00,#ffe600,#ffde00,#ffd700,#ffcf00,#ffc700,#ffbf00,#ffb800,#ffb000,#ffa800,#ffa000)"></i><i style="height:2.00px;background:linear-gradient(90deg,#a0ff00,#a8ff00,#b0ff00,#b8ff00,#c0ff00,#c8ff00,#d0ff00,#d8ff00,#e1ff00,#e9ff00,#f1ff00,#f9ff00,#fffd00,#fff500,#ffee00,#ffe600,#ffde00,#ffd600,#ffce00,#ffc600,#ffbe00,#ffb600,#ffaf00,#ffa700,#ff9f00)"></i><i style="height:2.00px;background:linear-gradient(90deg,#9fff00,#a7ff00,#afff00,#b7ff00,#bfff00,#c7ff00,#d0ff00,#d8ff00,#e0ff00,#e8ff00,#f0ff00,#f9ff00,#fffd00,#fff500,#ffed00,#ffe500,#ffdd00,#ffd500,#ffcd00,#ffc500,#ffbd00,#ffb500,#ffad00,#ffa500,#ff9d00)"></i><i style="height:2.00px;background:linear-gradient(90deg,#9dff00,#a5ff00,#aeff00,#b6ff00,#beff00,#c7ff00,#cfff00,#d7ff00,#e0ff00,#e8ff00,#f0ff00,#f8ff00,#fffd00,#fff500,#ffed00,#ffe500,#ffdd00,#ffd500,#ffcd00,#ffc400,#ffbc00,#ffb400,#ffac00,#ffa400,#ff9c00)"></i><i style="height:2.00px;background:linear-gradient(90deg,#9cff00,#a4ff00,#acff00,#b5ff00,#bdff00,#c6ff00,#ceff00,#d7ff00,#dfff00,#e7ff00,#f0ff00,#f8ff00,#fffd00,#fff500,#ffed00,#ffe500,#ffdc00,#ffd400,#ffcc00,#ffc400,#ffbb00,#ffb300,#ffab00,#ffa300,#ff9a00)"></i><i style="height:2.00px;background:linear-gradient(90deg,#9aff00,#a3ff00,#abff00,#b4ff00,#bcff00,#c5ff00,#cdff00,#d6ff00,#dfff00,#e7ff00,#f0ff00,#f8ff00,#fffd00,#fff500,#ffed00,#ffe400,#ffdc00,#ffd300,#ffcb00,#ffc300,#ffba00,#ffb200,#ffaa00,#ffa100,#ff9900)"></i><i style="height:2.00px;background:linear-gradient(90deg,#98ff00,#a1ff00,#aaff00,#b3ff00,#bbff00,#c4ff00,#cdff00,#d5ff00,#deff00,#e7ff00,#efff00,#f8ff00,#fffd00,#fff500,#ffec00,#ffe400,#ffdb00,#ffd300,#ffca00,#ffc200,#ffb900,#ffb100,#ffa800,#ffa000,#ff9700)"></i><i style="height:2.00px;background:linear-gradient(90deg,#97ff00,#a0ff00,#a9ff00,#b1ff00,#baff00,#c3ff00,#ccff00,#d5ff00,#deff00,#e6ff00,#efff00,#f8ff00,#fffd00,#fff500,#ffec00,#ffe300,#ffdb00,#ffd200,#ffca00,#ffc100,#ffb800,#ffb000,#ffa700,#ff9f00,#ff9600)"></i><i style="height:2.00px;background:linear-gradient(90deg,#95ff00,#9eff00,#a7ff00,#b0ff00,#b9ff00,#c2ff00,#cbff00,#d4ff00,#ddff00,#e6ff00,#efff00,#f8ff00,#fffd00,#fff500,#ffec00,#ffe300,#ffda00,#ffd200,#ffc900,#ffc000,#ffb700,#ffaf00,#ffa600,#ff9d00,#ff9500)"></i><i style="height:2.00px;background:linear-gradient(90deg,#94ff00,#9dff00,#a6ff00,#afff00,#b8ff00,#c1ff00,#caff00,#d3ff00,#ddff00,#e6ff00,#efff00,#f8ff00,#fffd00,#fff400,#ffec00,#ffe300,#ffda00,#ffd100,#ffc800,#ffbf00,#ffb600,#ffae00,#ffa500,#ff9c00,#ff9300)"></i><i style="height:2.00px;background:linear-gradient(90deg,#92ff00,#9cff00,#a5ff00,#aeff00,#b7ff00,#c0ff00,#caff00,#d3ff00,#dcff00,#e5ff00,#eeff00,#f8ff00,#fffd00,#fff400,#ffeb00,#ffe200,#ffd900,#ffd000,#ffc700,#ffbe00,#ffb500,#ffac00,#ffa400,#ff9b00,#ff9200)"></i><i style="height:2.00px;background:linear-gradient(90deg,#91ff00,#9aff00,#a4ff00,#adff00,#b6ff00,#c0ff00,#c9ff00,#d2ff00,#dcff00,#e5ff00,#eeff00,#f7ff00,#fffd00,#fff400,#ffeb00,#ffe200,#ffd900,#ffd000,#ffc700,#ffbe00,#ffb400,#ffab00,#ffa200,#ff9900,#ff9000)"></i><i style="height:2.00px;background:linear-gradient(90deg,#8fff00,#99ff00,#a2ff00,#acff00,#b5ff00,#bfff00,#c8ff00,#d2ff00,#dbff00,#e4ff00,#eeff00,#f7ff00,#fffd00,#fff400,#ffeb00,#ffe200,#ffd800,#ffcf00,#ffc600,#ffbd00,#ffb400,#ffaa00,#ffa100,#ff9800,#ff8f00)"></i><i style="height:2.00px;background:linear-gradient(90deg,#8eff00,#98ff00,#a1ff00,#abff00,#b4ff00,#beff00,#c7ff00,#d1ff00,#dbff00,#e4ff00,#eeff00,#f7ff00,#fffd00,#fff400,#ffeb00,#ffe100,#ffd800,#ffcf00,#ffc500,#ffbc00,#ffb300,#ffa900,#ffa000,#ff9700,#ff8d00)"></i><i style="height:2.00px;background:linear-gradient(90deg,#8cff00,#96ff00,#a0ff00,#aaff00,#b3ff00,#bdff00,#c7ff00,#d0ff00,#daff00,#e4ff00,#edff00,#f7ff00,#fffd00,#fff400,#ffea00,#ffe100,#ffd700,#ffce00,#ffc400,#ffbb00,#ffb200,#ffa800,#ff9f00,#ff9500,#ff8c00)"></i><i style="height:2.00px;background:linear-gradient(90deg,#8bff00,#95ff00,#9fff00,#a8ff00,#b2ff00,#bcff00,#c6ff00,#d0ff00,#daff00,#e3ff00,#edff00,#f7ff00,#fffd00,#fff400,#ffea00,#ffe000,#ffd700,#ffcd00,#ffc400,#ffba00,#ffb100,#ffa700,#ff9d00,#ff9400,#ff8a00)"></i><i style="height:2.00px;background:linear-gradient(90deg,#89ff00,#93ff00,#9dff00,#a7ff00,#b1ff00,#bbff00,#c5ff00,#cfff00,#d9ff00,#e3ff00,#edff00,#f7ff00,#fffd00,#fff400,#ffea00,#ffe000,#ffd600,#ffcd00,#ffc300,#ffb900,#ffb000,#ffa600,#ff9c00,#ff9200,#ff8900)"></i><i style="height:2.00px;background:linear-gradient(90deg,#88ff00,#92ff00,#9cff00,#a6ff00,#b0ff00,#baff00,#c4ff00,#ceff00,#d9ff00,#e3ff00,#edff00,#f7ff00,#fffd00,#fff300,#ffea00,#ffe000,#ffd600,#ffcc00,#ffc200,#ffb800,#ffaf00,#ffa500,#ff9b00,#ff9100,#ff8700)"></i><i style="height:2.00px;background:linear-gradient(90deg,#86ff00,#91ff00,#9bff00,#a5ff00,#afff00,#b9ff00,#c4ff00,#ceff00,#d8ff00,#e2ff00,#ecff00,#f7ff00,#fffd00,#fff300,#ffe900,#ffdf00,#ffd500,#ffcb00,#ffc200,#ffb800,#ffae00,#ffa400,#ff9a00,#ff9000,#ff8600)"></i><i style="height:2.00px;background:linear-gradient(90deg,#85ff00,#8fff00,#9aff00,#a4ff00,#aeff00,#b9ff00,#c3ff00,#cdff00,#d8ff00,#e2ff00,#ecff00,#f6ff00,#fffd00,#fff300,#ffe900,#ffdf00,#ffd500,#ffcb00,#ffc100,#ffb700,#ffad00,#ffa300,#ff9900,#ff8e00,#ff8400)"></i><i style="height:2.00px;background:linear-gradient(90deg,#83ff00,#8eff00,#98ff00,#a3ff00,#adff00,#b8ff00,#c2ff00,#cdff00,#d7ff00,#e1ff00,#ecff00,#f6ff00,#fffd00,#fff300,#ffe900,#ffdf00,#ffd400,#ffca00,#ffc000,#ffb600,#ffac00,#ffa100,#ff9700,#ff8d00,#ff8300)"></i><i style="height:2.00px;background:linear-gradient(90deg,#82ff00,#8dff00,#97ff00,#a2ff00,#acff00,#b7ff00,#c1ff00,#ccff00,#d7ff00,#e1ff00,#ecff00,#f6ff00,#fffd00,#fff300,#ffe900,#ffde00,#ffd400,#ffca00,#ffbf00,#ffb500,#ffab00,#ffa000,#ff9600,#ff8c00,#ff8100)"></i><i style="height:2.00px;background:linear-gradient(90deg,#80ff00,#8bff00,#96ff00,#a1ff00,#abff00,#b6ff00,#c1ff00,#cbff00,#d6ff00,#e1ff00,#ebff00,#f6ff00,#fffd00,#fff300,#ffe800,#ffde00,#ffd300,#ffc900,#ffbf00,#ffb400,#ffaa00,#ff9f00,#ff9500,#ff8a00,#ff8000)"></i><i style="height:2.00px;background:linear-gradient(90deg,#7fff00,#8aff00,#95ff00,#9fff00,#aaff00,#b5ff00,#c0ff00,#cbff00,#d6ff00,#e0ff00,#ebff00,#f6ff00,#fffd00,#fff300,#ffe800,#ffde00,#ffd300,#ffc800,#ffbe00,#ffb300,#ffa900,#ff9e00,#ff9400,#ff8900,#ff7e00)"></i><i style="height:2.00px;background:linear-gradient(90deg,#7dff00,#88ff00,#93ff00,#9eff00,#a9ff00,#b4ff00,#bfff00,#caff00,#d5ff00,#e0ff00,#ebff00,#f6ff00,#fffd00,#fff300,#ffe800,#ffdd00,#ffd200,#ffc800,#ffbd00,#ffb200,#ffa800,#ff9d00,#ff9200,#ff8800,#ff7d00)"></i><i style="height:2.00px;background:linear-gradient(90deg,#7cff00,#87ff00,#92ff00,#9dff00,#a8ff00,#b3ff00,#beff00,#c9ff00,#d5ff00,#e0ff00,#ebff00,#f6ff00,#fffd00,#fff200,#ffe800,#ffdd00,#ffd200,#ffc700,#ffbc00,#ffb200,#ffa700,#ff9c00,#ff9100,#ff8600,#ff7c00)"></i><i style="height:2.00px;background:linear-gradient(90deg,#7aff00,#86ff00,#91ff00,#9cff00,#a7ff00,#b2ff00,#beff00,#c9ff00,#d4ff00,#dfff00,#eaff00,#f6ff00,#fffd00,#fff200,#ffe700,#ffdc00,#ffd200,#ffc700,#ffbc00,#ffb100,#ffa600,#ff9b00,#ff9000,#ff8500,#ff7a00)"></i><i style="height:2.00px;background:linear-gradient(90deg,#79ff00,#84ff00,#90ff00,#9bff00,#a6ff00,#b2ff00,#bdff00,#c8ff00,#d4ff00,#dfff00,#eaff00,#f6ff00,#fffd00,#fff200,#ffe700,#ffdc00,#ffd100,#ffc600,#ffbb00,#ffb000,#ffa500,#ff9a00,#ff8f00,#ff8400,#ff7900)"></i><i style="height:2.00px;background:linear-gradient(90deg,#77ff00,#83ff00,#8eff00,#9aff00,#a5ff00,#b1ff00,#bcff00,#c8ff00,#d3ff00,#deff00,#eaff00,#f5ff00,#fffd00,#fff200,#ffe700,#ffdc00,#ffd100,#ffc500,#ffba00,#ffaf00,#ffa400,#ff9900,#ff8d00,#ff8200,#ff7700)"></i><i style="height:2.00px;background:linear-gradient(90deg,#76ff00,#81ff00,#8dff00,#99ff00,#a4ff00,#b0ff00,#bbff00,#c7ff00,#d3ff00,#deff00,#eaff00,#f5ff00,#fffd00,#fff200,#ffe700,#ffdb00,#ffd000,#ffc500,#ffb900,#ffae00,#ffa300,#ff9800,#ff8c00,#ff8100,#ff7600)"></i><i style="height:2.00px;background:linear-gradient(90deg,#74ff00,#80ff00,#8cff00,#98ff00,#a3ff00,#afff00,#bbff00,#c6ff00,#d2ff00,#deff00,#e9ff00,#f5ff00,#fffd00,#fff200,#ffe600,#ffdb00,#ffd000,#ffc400,#ffb900,#ffad00,#ffa200,#ff9600,#ff8b00,#ff8000,#ff7400)"></i><i style="height:2.00px;background:linear-gradient(90deg,#73ff00,#7fff00,#8bff00,#96ff00,#a2ff00,#aeff00,#baff00,#c6ff00,#d2ff00,#ddff00,#e9ff00,#f5ff00,#fffd00,#fff200,#ffe600,#ffdb00,#ffcf00,#ffc400,#ffb800,#ffac00,#ffa100,#ff9500,#ff8a00,#ff7e00,#ff7300)"></i><i style="height:2.00px;background:linear-gradient(90deg,#71ff00,#7dff00,#89ff00,#95ff00,#a1ff00,#adff00,#b9ff00,#c5ff00,#d1ff00,#ddff00,#e9ff00,#f5ff00,#fffd00,#fff200,#ffe600,#ffda00,#ffcf00,#ffc300,#ffb700,#ffac00,#ffa000,#ff9400,#ff8900,#ff7d00,#ff7100)"></i><i style="height:2.00px;background:linear-gradient(90deg,#70ff00,#7cff00,#88ff00,#94ff00,#a0ff00,#acff00,#b8ff00,#c4ff00,#d1ff00,#ddff00,#e9ff00,#f5ff00,#fffd00,#fff100,#ffe600,#ffda00,#ffce00,#ffc200,#ffb700,#ffab00,#ff9f00,#ff9300,#ff8700,#ff7c00,#ff7000)"></i><i style="height:2.00px;background:linear-gradient(90deg,#6eff00,#7bff00,#87ff00,#93ff00,#9fff00,#abff00,#b8ff00,#c4ff00,#d0ff00,#dcff00,#e8ff00,#f5ff00,#fffd00,#fff100,#ffe500,#ffd900,#ffce00,#ffc200,#ffb600,#ffaa00,#ff9e00,#ff9200,#ff8600,#ff7a00,#ff6e00)"></i><i style="height:2.00px;background:linear-gradient(90deg,#6dff00,#79ff00,#86ff00,#92ff00,#9eff00,#abff00,#b7ff00,#c3ff00,#d0ff00,#dcff00,#e8ff00,#f5ff00,#fffd00,#fff100,#ffe500,#ffd900,#ffcd00,#ffc100,#ffb500,#ffa900,#ff9d00,#ff9100,#ff8500,#ff7900,#ff6d00)"></i><i style="height:2.00px;background:linear-gradient(90deg,#6bff00,#78ff00,#84ff00,#91ff00,#9dff00,#aaff00,#b6ff00,#c3ff00,#cfff00,#dbff00,#e8ff00,#f4ff00,#fffd00,#fff100,#ffe500,#ffd900,#ffcd00,#ffc000,#ffb400,#ffa800,#ff9c00,#ff9000,#ff8400,#ff7800,#ff6b00)"></i><i style="height:2.00px;background:linear-gradient(90deg,#6aff00,#76ff00,#83ff00,#90ff00,#9cff00,#a9ff00,#b5ff00,#c2ff00,#cfff00,#dbff00,#e8ff00,#f4ff00,#fffd00,#fff100,#ffe500,#ffd800,#ffcc00,#ffc000,#ffb400,#ffa700,#ff9b00,#ff8f00,#ff8200,#ff7600,#ff6a00)"></i><i style="height:2.00px;background:linear-gradient(90deg,#68ff00,#75ff00,#82ff00,#8eff00,#9bff00,#a8ff00,#b5ff00,#c1ff00,#ceff00,#dbff00,#e7ff00,#f4ff00,#fffd00,#fff100,#ffe400,#ffd800,#ffcc00,#ffbf00,#ffb300,#ffa600,#ff9a00,#ff8e00,#ff8100,#ff7500,#ff6800)"></i><i style="height:2.00px;background:linear-gradient(90deg,#67ff00,#74ff00,#81ff00,#8dff00,#9aff00,#a7ff00,#b4ff00,#c1ff00,#ceff00,#daff00,#e7ff00,#f4ff00,#fffd00,#fff100,#ffe400,#ffd800,#ffcb00,#ffbf00,#ffb200,#ffa600,#ff9900,#ff8d00,#ff8000,#ff7400,#ff6700)"></i><i style="height:2.00px;background:linear-gradient(90deg,#65ff00,#72ff00,#7fff00,#8cff00,#99ff00,#a6ff00,#b3ff00,#c0ff00,#cdff00,#daff00,#e7ff00,#f4ff00,#fffd00,#fff100,#ffe400,#ffd700,#ffcb00,#ffbe00,#ffb100,#ffa500,#ff9800,#ff8b00,#ff7f00,#ff7200,#ff6600)"></i><i style="height:2.00px;background:linear-gradient(90deg,#64ff00,#71ff00,#7eff00,#8bff00,#98ff00,#a5ff00,#b2ff00,#bfff00,#cdff00,#daff00,#e7ff00,#f4ff00,#fffd00,#fff000,#ffe400,#ffd700,#ffca00,#ffbd00,#ffb100,#ffa400,#ff9700,#ff8a00,#ff7e00,#ff7100,#ff6400)"></i><i style="height:2.00px;background:linear-gradient(90deg,#62ff00,#70ff00,#7dff00,#8aff00,#97ff00,#a4ff00,#b2ff00,#bfff00,#ccff00,#d9ff00,#e6ff00,#f4ff00,#fffd00,#fff000,#ffe300,#ffd700,#ffca00,#ffbd00,#ffb000,#ffa300,#ff9600,#ff8900,#ff7c00,#ff6f00,#ff6300)"></i><i style="height:2.00px;background:linear-gradient(90deg,#61ff00,#6eff00,#7cff00,#89ff00,#96ff00,#a4ff00,#b1ff00,#beff00,#ccff00,#d9ff00,#e6ff00,#f4ff00,#fffd00,#fff000,#ffe300,#ffd600,#ffc900,#ffbc00,#ffaf00,#ffa200,#ff9500,#ff8800,#ff7b00,#ff6e00,#ff6100)"></i><i style="height:2.00px;background:linear-gradient(90deg,#5fff00,#6dff00,#7aff00,#88ff00,#95ff00,#a3ff00,#b0ff00,#beff00,#cbff00,#d8ff00,#e6ff00,#f3ff00,#fffd00,#fff000,#ffe300,#ffd600,#ffc900,#ffbc00,#ffae00,#ffa100,#ff9400,#ff8700,#ff7a00,#ff6d00,#ff6000)"></i><i style="height:2.00px;background:linear-gradient(90deg,#5eff00,#6bff00,#79ff00,#87ff00,#94ff00,#a2ff00,#afff00,#bdff00,#cbff00,#d8ff00,#e6ff00,#f3ff00,#fffd00,#fff000,#ffe300,#ffd500,#ffc800,#ffbb00,#ffae00,#ffa000,#ff9300,#ff8600,#ff7900,#ff6b00,#ff5e00)"></i><i style="height:2.00px;background:linear-gradient(90deg,#5cff00,#6aff00,#78ff00,#85ff00,#93ff00,#a1ff00,#afff00,#bcff00,#caff00,#d8ff00,#e5ff00,#f3ff00,#fffd00,#fff000,#ffe200,#ffd500,#ffc800,#ffba00,#ffad00,#ffa000,#ff9200,#ff8500,#ff7700,#ff6a00,#ff5d00)"></i><i style="height:2.00px;background:linear-gradient(90deg,#5bff00,#69ff00,#77ff00,#84ff00,#92ff00,#a0ff00,#aeff00,#bcff00,#caff00,#d7ff00,#e5ff00,#f3ff00,#fffd00,#fff000,#ffe200,#ffd500,#ffc700,#ffba00,#ffac00,#ff9f00,#ff9100,#ff8400,#ff7600,#ff6900,#ff5b00)"></i><i style="height:2.00px;background:linear-gradient(90deg,#59ff00,#67ff00,#75ff00,#83ff00,#91ff00,#9fff00,#adff00,#bbff00,#c9ff00,#d7ff00,#e5ff00,#f3ff00,#fffd00,#fff000,#ffe200,#ffd400,#ffc700,#ffb900,#ffab00,#ff9e00,#ff9000,#ff8300,#ff7500,#ff6700,#ff5a00)"></i><i style="height:2.00px;background:linear-gradient(90deg,#58ff00,#66ff00,#74ff00,#82ff00,#90ff00,#9eff00,#acff00,#baff00,#c9ff00,#d7ff00,#e5ff00,#f3ff00,#fffd00,#ffef00,#ffe200,#ffd400,#ffc600,#ffb800,#ffab00,#ff9d00,#ff8f00,#ff8200,#ff7400,#ff6600,#ff5800)"></i><i style="height:2.00px;background:linear-gradient(90deg,#56ff00,#65ff00,#73ff00,#81ff00,#8fff00,#9dff00,#acff00,#baff00,#c8ff00,#d6ff00,#e4ff00,#f3ff00,#fffd00,#ffef00,#ffe100,#ffd400,#ffc600,#ffb800,#ffaa00,#ff9c00,#ff8e00,#ff8000,#ff7300,#ff6500,#ff5700)"></i><i style="height:2.00px;background:linear-gradient(90deg,#55ff00,#63ff00,#71ff00,#80ff00,#8eff00,#9dff00,#abff00,#b9ff00,#c8ff00,#d6ff00,#e4ff00,#f3ff00,#fffd00,#ffef00,#ffe100,#ffd300,#ffc500,#ffb700,#ffa900,#ff9b00,#ff8d00,#ff7f00,#ff7100,#ff6300,#ff5500)"></i><i style="height:2.00px;background:linear-gradient(90deg,#53ff00,#62ff00,#70ff00,#7fff00,#8dff00,#9cff00,#aaff00,#b9ff00,#c7ff00,#d5ff00,#e4ff00,#f2ff00,#fffd00,#ffef00,#ffe100,#ffd300,#ffc500,#ffb700,#ffa900,#ff9a00,#ff8c00,#ff7e00,#ff7000,#ff6200,#ff5400)"></i><i style="height:0.60px;background:linear-gradient(90deg,#52ff00,#61ff00,#6fff00,#7eff00,#8dff00,#9bff00,#aaff00,#b8ff00,#c7ff00,#d5ff00,#e4ff00,#f2ff00,#fffd00,#ffef00,#ffe100,#ffd300,#ffc400,#ffb600,#ffa800,#ff9a00,#ff8c00,#ff7d00,#ff6f00,#ff6100,#ff5300)"></i></div>
<svg width="547" height="550" viewBox="0 0 547 550">
<rect class="bd" x="72.5" y="19.5" width="462.5" height="463.7"/>
<path d="M513.6 19.5 L513.9 19.9 L514.2 20.3 L514.6 20.6 L514.9 21.0 L515.3 21.4 L515.6 21.7 L515.9 22.1 L516.3 22.5 L516.6 22.9 L517.0 23.2 L517.3 23.6 L517.7 24.0 L518.0 24.3 L518.4 24.7 L518.7 25.1 L519.1 25.4 L519.4 25.8 L519.8 26.2 L520.1 26.5 L520.5 26.9 L520.8 27.3 L521.2 27.6 L521.5 28.0 L521.9 28.3 L522.2 28.7 L522.6 29.1 L522.9 29.4 L523.3 29.8 L523.7 30.1 L524.0 30.5 L524.4 30.9 L524.7 31.2 L525.1 31.6 L525.4 31.9 L525.8 32.3 L526.2 32.6 L526.5 33.0 L526.9 33.3 L527.3 33.7 L527.6 34.1 L528.0 34.4 L528.3 34.8 L528.7 35.1 L529.1 35.5 L529.4 35.8 L529.8 36.2 L530.2 36.5 L530.5 36.9 L530.9 37.2 L531.3 37.5 L531.6 37.9 L532.0 38.2 L532.4 38.6 L532.8 38.9 L533.1 39.3 L533.5 39.6 L533.9 40.0 L534.3 40.3 L534.6 40.6 L535.0 41.0"/>
<path d="M93.5 483.2 L93.2 482.8 L92.9 482.4 L92.5 482.1 L92.2 481.7 L91.8 481.3 L91.5 481.0 L91.2 480.6 L90.8 480.2 L90.5 479.8 L90.1 479.5 L89.8 479.1 L89.4 478.7 L89.1 478.4 L88.7 478.0 L88.4 477.6 L88.0 477.3 L87.7 476.9 L87.3 476.5 L87.0 476.2 L86.6 475.8 L86.3 475.4 L85.9 475.1 L85.6 474.7 L85.2 474.4 L84.9 474.0 L84.5 473.6 L84.2 473.3 L83.8 472.9 L83.4 472.6 L83.1 472.2 L82.7 471.8 L82.4 471.5 L82.0 471.1 L81.7 470.8 L81.3 470.4 L80.9 470.1 L80.6 469.7 L80.2 469.4 L79.8 469.0 L79.5 468.6 L79.1 468.3 L78.8 467.9 L78.4 467.6 L78.0 467.2 L77.7 466.9 L77.3 466.5 L76.9 466.2 L76.6 465.8 L76.2 465.5 L75.8 465.2 L75.5 464.8 L75.1 464.5 L74.7 464.1 L74.3 463.8 L74.0 463.4 L73.6 463.1 L73.2 462.7 L72.8 462.4 L72.5 462.1 L72.1 461.7"/>
<path d="M363.8 19.5 L365.1 24.6 L366.5 29.7 L368.0 34.6 L369.4 39.4 L370.9 44.1 L372.4 48.7 L374.0 53.2 L375.6 57.6 L377.2 61.9 L378.9 66.1 L380.6 70.2 L382.4 74.2 L384.2 78.2 L386.0 82.0 L387.9 85.8 L389.8 89.4 L391.7 93.0 L393.7 96.5 L395.8 100.0 L397.9 103.3 L400.0 106.6 L402.2 109.8 L404.4 113.0 L406.7 116.0 L409.1 119.1 L411.5 122.0 L413.9 124.9 L416.4 127.7 L419.0 130.4 L421.6 133.1 L424.3 135.7 L427.0 138.3 L429.8 140.8 L432.7 143.2 L435.6 145.6 L438.6 148.0 L441.7 150.3 L444.8 152.5 L448.0 154.7 L451.3 156.9 L454.7 159.0 L458.1 161.0 L461.6 163.0 L465.2 165.0 L468.8 166.9 L472.6 168.8 L476.4 170.6 L480.4 172.4 L484.4 174.1 L488.5 175.9 L492.7 177.5 L497.0 179.2 L501.4 180.8 L505.8 182.3 L510.4 183.9 L515.1 185.4 L519.9 186.8 L524.8 188.3 L529.9 189.7 L535.0 191.0"/>
<path d="M243.3 483.2 L242.0 478.1 L240.6 473.0 L239.1 468.1 L237.7 463.3 L236.2 458.6 L234.7 454.0 L233.1 449.5 L231.5 445.1 L229.9 440.8 L228.2 436.6 L226.5 432.5 L224.7 428.5 L222.9 424.5 L221.1 420.7 L219.2 416.9 L217.3 413.3 L215.4 409.7 L213.4 406.2 L211.3 402.7 L209.2 399.4 L207.1 396.1 L204.9 392.9 L202.7 389.7 L200.4 386.7 L198.0 383.6 L195.6 380.7 L193.2 377.8 L190.7 375.0 L188.1 372.3 L185.5 369.6 L182.8 367.0 L180.1 364.4 L177.3 361.9 L174.4 359.5 L171.5 357.1 L168.5 354.7 L165.4 352.4 L162.3 350.2 L159.1 348.0 L155.8 345.8 L152.4 343.7 L149.0 341.7 L145.5 339.7 L141.9 337.7 L138.3 335.8 L134.5 333.9 L130.7 332.1 L126.7 330.3 L122.7 328.6 L118.6 326.8 L114.4 325.2 L110.1 323.5 L105.7 321.9 L101.3 320.4 L96.7 318.8 L92.0 317.3 L87.2 315.9 L82.3 314.4 L77.2 313.0 L72.1 311.7"/>
<path d="M393.1 483.2 L394.6 479.6 L396.0 476.0 L397.5 472.5 L399.0 469.0 L400.5 465.6 L402.0 462.2 L403.6 458.9 L405.2 455.6 L406.8 452.4 L408.5 449.3 L410.2 446.2 L411.9 443.1 L413.6 440.1 L415.3 437.1 L417.1 434.2 L418.9 431.3 L420.8 428.5 L422.6 425.7 L424.5 423.0 L426.5 420.3 L428.4 417.7 L430.4 415.0 L432.4 412.5 L434.5 409.9 L436.6 407.5 L438.7 405.0 L440.9 402.6 L443.0 400.2 L445.3 397.9 L447.5 395.6 L449.8 393.3 L452.2 391.1 L454.5 388.9 L456.9 386.7 L459.4 384.6 L461.9 382.5 L464.4 380.5 L467.0 378.4 L469.6 376.4 L472.2 374.5 L474.9 372.5 L477.6 370.6 L480.4 368.8 L483.2 366.9 L486.1 365.1 L489.0 363.3 L492.0 361.6 L495.0 359.8 L498.0 358.1 L501.1 356.5 L504.3 354.8 L507.5 353.2 L510.7 351.6 L514.0 350.0 L517.4 348.5 L520.8 346.9 L524.3 345.4 L527.8 344.0 L531.4 342.5 L535.0 341.1"/>
<path d="M214.0 19.5 L212.5 23.1 L211.1 26.7 L209.6 30.2 L208.1 33.7 L206.6 37.1 L205.1 40.5 L203.5 43.8 L201.9 47.1 L200.3 50.3 L198.6 53.4 L196.9 56.5 L195.2 59.6 L193.5 62.6 L191.8 65.6 L190.0 68.5 L188.2 71.4 L186.3 74.2 L184.5 77.0 L182.6 79.7 L180.6 82.4 L178.7 85.0 L176.7 87.7 L174.7 90.2 L172.6 92.8 L170.5 95.2 L168.4 97.7 L166.2 100.1 L164.1 102.5 L161.8 104.8 L159.6 107.1 L157.3 109.4 L154.9 111.6 L152.6 113.8 L150.2 116.0 L147.7 118.1 L145.2 120.2 L142.7 122.2 L140.1 124.3 L137.5 126.3 L134.9 128.2 L132.2 130.2 L129.5 132.1 L126.7 133.9 L123.9 135.8 L121.0 137.6 L118.1 139.4 L115.1 141.1 L112.1 142.9 L109.1 144.6 L106.0 146.2 L102.8 147.9 L99.6 149.5 L96.4 151.1 L93.1 152.7 L89.7 154.2 L86.3 155.8 L82.8 157.3 L79.3 158.7 L75.7 160.2 L72.1 161.6"/>
<line x1="60.2" x2="72.0" y1="19.5" y2="19.5"/>
<text class="tk" text-anchor="end" transform="translate(56,15.6) scale(.95,1)">25</text>
<line x1="60.2" x2="72.0" y1="135.4" y2="135.4"/>
<text class="tk" text-anchor="end" transform="translate(56,131.5) scale(.95,1)">20</text>
<line x1="60.2" x2="72.0" y1="251.3" y2="251.3"/>
<text class="tk" text-anchor="end" transform="translate(56,247.4) scale(.95,1)">15</text>
<line x1="60.2" x2="72.0" y1="367.3" y2="367.3"/>
<text class="tk" text-anchor="end" transform="translate(56,363.4) scale(.95,1)">10</text>
<line x1="60.2" x2="72.0" y1="483.2" y2="483.2"/>
<text class="tk" text-anchor="end" transform="translate(56,479.3) scale(.95,1)">5</text>
<line x1="72.1" x2="72.1" y1="483.1" y2="494.3"/>
<text class="tk" text-anchor="middle" transform="translate(72.1,513.6) scale(.95,1)">8</text>
<line x1="187.8" x2="187.8" y1="483.1" y2="494.3"/>
<text class="tk" text-anchor="middle" transform="translate(187.8,513.6) scale(.95,1)">9</text>
<line x1="303.5" x2="303.5" y1="483.1" y2="494.3"/>
<text class="tk" text-anchor="middle" transform="translate(303.5,513.6) scale(.95,1)">10</text>
<line x1="419.3" x2="419.3" y1="483.1" y2="494.3"/>
<text class="tk" text-anchor="middle" transform="translate(419.3,513.6) scale(.95,1)">11</text>
<line x1="535.0" x2="535.0" y1="483.1" y2="494.3"/>
<text class="tk" text-anchor="middle" transform="translate(535.0,513.6) scale(.95,1)">12</text>
<rect class="lb" x="145.3" y="81.4" width="29.8" height="24.6"/>
<text class="lt" text-anchor="middle" transform="translate(160.2,100.8) scale(.93,1)">0.9</text>
<rect class="lb" x="399.6" y="105.3" width="39.3" height="24.7"/>
<text class="lt" text-anchor="middle" transform="translate(419.2,124.8) scale(.93,1)">0.85</text>
<rect class="lb" x="162.9" y="341.7" width="39.7" height="24.7"/>
<text class="lt" text-anchor="middle" transform="translate(182.8,361.2) scale(.93,1)">0.85</text>
<rect class="lb" x="72.6" y="451.3" width="30.2" height="25.3"/>
<text class="lt" text-anchor="middle" transform="translate(87.7,471.4) scale(.93,1)">0.8</text>
<rect class="lb" x="433.3" y="369.4" width="29.4" height="25.0"/>
<text class="lt" text-anchor="middle" transform="translate(448.0,389.2) scale(.93,1)">0.9</text>
<g class="ax">
<text x="207.1" y="540.9">X</text><text x="220.8" y="544.8" font-size="12">1</text><text class="cj" x="228" y="541.6">：</text><text x="246.2" y="540.9">Water Addition</text><text x="362" y="541">（</text><text x="382" y="540.9">mL/g</text><text x="425.2" y="541">）</text>
</g>
<g class="ax" style="font-size:19px" transform="translate(8.3,157.5) rotate(90)">
<text x="0" y="0">X</text><text x="13.8" y="1.2" font-size="12">3</text><text x="39.2" y="0">Collection Temperature</text><text x="216.5" y="0">（</text><text x="237" y="0">°C</text><text x="257.5" y="0">）</text>
</g>
<text class="cj" x="19.1" y="186.4">：</text>
</svg>
</body></html>
